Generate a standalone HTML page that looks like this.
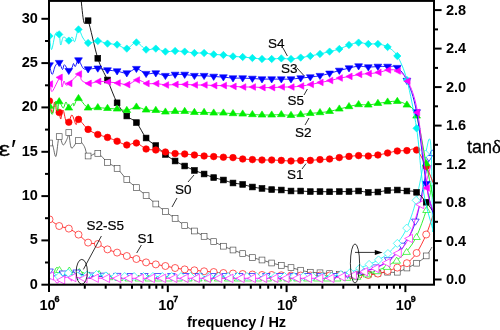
<!DOCTYPE html>
<html><head><meta charset="utf-8"><style>
html,body{margin:0;padding:0;background:#fff;}
svg{display:block;}
.tl{font-family:"Liberation Sans",Arial,sans-serif;font-weight:bold;font-size:14.5px;fill:#000;}
.sup{font-size:9px;font-weight:bold;stroke:#000;stroke-width:0.3px;}
.an text{font-family:"Liberation Sans",Arial,sans-serif;font-size:13.5px;fill:#000;stroke:#000;stroke-width:0.2px;}
.dl{font-family:"Liberation Serif",serif;font-size:19px;}
.ax{font-family:"Liberation Sans",Arial,sans-serif;fill:#000;}
.th{stroke:#000;stroke-width:0.3px;}
</style></head><body>
<svg width="500" height="330" viewBox="0 0 500 330">
<defs><clipPath id="c"><rect x="49" y="1" width="385" height="283.7"/></clipPath></defs>
<g clip-path="url(#c)">
<path d="M49.5 143.0C50.0 143.3 51.5 142.8 52.6 145.0C53.7 147.2 54.8 157.8 55.9 156.4C57.0 155.0 57.9 138.5 59.2 136.6C60.4 134.7 61.8 144.9 63.2 145.0C64.6 145.1 66.8 139.5 67.7 137.4C68.6 135.3 68.2 130.8 68.8 132.6C69.5 134.4 69.9 146.7 71.5 148.0C73.1 149.3 76.3 140.8 78.5 140.6C80.6 140.3 82.8 143.9 84.4 146.5C86.0 149.1 85.9 154.8 88.1 156.0C90.4 157.2 94.6 152.3 97.8 153.4C101.0 154.5 104.2 159.9 107.5 162.4C110.7 164.9 113.9 165.5 117.1 168.4C120.3 171.3 123.6 176.4 126.8 179.6C130.0 182.8 133.2 184.9 136.4 187.6C139.7 190.3 142.9 192.9 146.1 195.6C149.3 198.3 152.5 201.3 155.8 204.0C159.0 206.7 162.2 209.2 165.4 211.6C168.6 214.0 171.9 216.1 175.1 218.4C178.3 220.7 181.5 223.5 184.7 225.6C188.0 227.7 191.2 229.2 194.4 231.0C197.6 232.8 200.8 234.6 204.1 236.4C207.3 238.2 210.5 240.0 213.7 241.6C216.9 243.2 220.2 244.8 223.4 246.2C226.6 247.6 229.8 248.8 233.0 250.0C236.3 251.2 239.5 252.3 242.7 253.6C245.9 254.9 249.1 256.5 252.4 257.6C255.6 258.7 258.8 259.1 262.0 260.0C265.2 260.9 268.5 262.1 271.7 263.0C274.9 263.9 278.1 264.6 281.3 265.4C284.6 266.2 287.8 266.8 291.0 267.6C294.2 268.4 297.4 269.4 300.7 270.2C303.9 271.0 307.1 271.8 310.3 272.2C313.5 272.6 316.8 272.6 320.0 272.8C323.2 273.0 326.4 273.4 329.6 273.6C332.9 273.8 336.1 273.9 339.3 274.2C342.5 274.5 345.7 275.1 349.0 275.2C352.2 275.3 355.4 275.0 358.6 274.8C361.8 274.6 365.1 274.5 368.3 274.2C371.5 273.9 374.7 273.5 377.9 273.2C381.2 272.9 384.4 272.4 387.6 272.2C390.8 272.0 394.0 272.9 397.3 272.2C400.5 271.5 403.7 269.5 406.9 268.0C410.1 266.5 413.4 265.2 416.6 263.2C419.8 261.2 423.7 258.6 426.2 255.9C428.8 253.2 431.0 248.5 432.0 247.0" fill="none" stroke="#474747" stroke-width="0.8" stroke-linejoin="round"/>
<rect x="46.6" y="140.1" width="5.8" height="5.8" fill="#fff" stroke="#474747" stroke-width="0.65"/>
<rect x="56.3" y="133.7" width="5.8" height="5.8" fill="#fff" stroke="#474747" stroke-width="0.65"/>
<rect x="65.9" y="129.7" width="5.8" height="5.8" fill="#fff" stroke="#474747" stroke-width="0.65"/>
<rect x="75.6" y="137.7" width="5.8" height="5.8" fill="#fff" stroke="#474747" stroke-width="0.65"/>
<rect x="85.2" y="153.1" width="5.8" height="5.8" fill="#fff" stroke="#474747" stroke-width="0.65"/>
<rect x="94.9" y="150.5" width="5.8" height="5.8" fill="#fff" stroke="#474747" stroke-width="0.65"/>
<rect x="104.6" y="159.5" width="5.8" height="5.8" fill="#fff" stroke="#474747" stroke-width="0.65"/>
<rect x="114.2" y="165.5" width="5.8" height="5.8" fill="#fff" stroke="#474747" stroke-width="0.65"/>
<rect x="123.9" y="176.7" width="5.8" height="5.8" fill="#fff" stroke="#474747" stroke-width="0.65"/>
<rect x="133.5" y="184.7" width="5.8" height="5.8" fill="#fff" stroke="#474747" stroke-width="0.65"/>
<rect x="143.2" y="192.7" width="5.8" height="5.8" fill="#fff" stroke="#474747" stroke-width="0.65"/>
<rect x="152.9" y="201.1" width="5.8" height="5.8" fill="#fff" stroke="#474747" stroke-width="0.65"/>
<rect x="162.5" y="208.7" width="5.8" height="5.8" fill="#fff" stroke="#474747" stroke-width="0.65"/>
<rect x="172.2" y="215.5" width="5.8" height="5.8" fill="#fff" stroke="#474747" stroke-width="0.65"/>
<rect x="181.8" y="222.7" width="5.8" height="5.8" fill="#fff" stroke="#474747" stroke-width="0.65"/>
<rect x="191.5" y="228.1" width="5.8" height="5.8" fill="#fff" stroke="#474747" stroke-width="0.65"/>
<rect x="201.2" y="233.5" width="5.8" height="5.8" fill="#fff" stroke="#474747" stroke-width="0.65"/>
<rect x="210.8" y="238.7" width="5.8" height="5.8" fill="#fff" stroke="#474747" stroke-width="0.65"/>
<rect x="220.5" y="243.3" width="5.8" height="5.8" fill="#fff" stroke="#474747" stroke-width="0.65"/>
<rect x="230.1" y="247.1" width="5.8" height="5.8" fill="#fff" stroke="#474747" stroke-width="0.65"/>
<rect x="239.8" y="250.7" width="5.8" height="5.8" fill="#fff" stroke="#474747" stroke-width="0.65"/>
<rect x="249.5" y="254.7" width="5.8" height="5.8" fill="#fff" stroke="#474747" stroke-width="0.65"/>
<rect x="259.1" y="257.1" width="5.8" height="5.8" fill="#fff" stroke="#474747" stroke-width="0.65"/>
<rect x="268.8" y="260.1" width="5.8" height="5.8" fill="#fff" stroke="#474747" stroke-width="0.65"/>
<rect x="278.4" y="262.5" width="5.8" height="5.8" fill="#fff" stroke="#474747" stroke-width="0.65"/>
<rect x="288.1" y="264.7" width="5.8" height="5.8" fill="#fff" stroke="#474747" stroke-width="0.65"/>
<rect x="297.8" y="267.3" width="5.8" height="5.8" fill="#fff" stroke="#474747" stroke-width="0.65"/>
<rect x="307.4" y="269.3" width="5.8" height="5.8" fill="#fff" stroke="#474747" stroke-width="0.65"/>
<rect x="317.1" y="269.9" width="5.8" height="5.8" fill="#fff" stroke="#474747" stroke-width="0.65"/>
<rect x="326.7" y="270.7" width="5.8" height="5.8" fill="#fff" stroke="#474747" stroke-width="0.65"/>
<rect x="336.4" y="271.3" width="5.8" height="5.8" fill="#fff" stroke="#474747" stroke-width="0.65"/>
<rect x="346.1" y="272.3" width="5.8" height="5.8" fill="#fff" stroke="#474747" stroke-width="0.65"/>
<rect x="355.7" y="271.9" width="5.8" height="5.8" fill="#fff" stroke="#474747" stroke-width="0.65"/>
<rect x="365.4" y="271.3" width="5.8" height="5.8" fill="#fff" stroke="#474747" stroke-width="0.65"/>
<rect x="375.0" y="270.3" width="5.8" height="5.8" fill="#fff" stroke="#474747" stroke-width="0.65"/>
<rect x="384.7" y="269.3" width="5.8" height="5.8" fill="#fff" stroke="#474747" stroke-width="0.65"/>
<rect x="394.4" y="269.3" width="5.8" height="5.8" fill="#fff" stroke="#474747" stroke-width="0.65"/>
<rect x="404.0" y="265.1" width="5.8" height="5.8" fill="#fff" stroke="#474747" stroke-width="0.65"/>
<rect x="413.7" y="260.3" width="5.8" height="5.8" fill="#fff" stroke="#474747" stroke-width="0.65"/>
<rect x="423.3" y="253.0" width="5.8" height="5.8" fill="#fff" stroke="#474747" stroke-width="0.65"/>
<path d="M49.5 219.4C51.1 220.5 55.9 224.5 59.2 226.0C62.4 227.5 65.6 227.2 68.8 228.6C72.0 230.0 75.3 232.3 78.5 234.6C81.7 236.9 84.9 241.0 88.1 242.6C91.4 244.2 94.6 242.9 97.8 244.0C101.0 245.1 104.2 248.0 107.5 249.4C110.7 250.8 113.9 251.5 117.1 252.6C120.3 253.7 123.6 254.9 126.8 256.0C130.0 257.1 133.2 257.9 136.4 259.0C139.7 260.1 142.9 261.5 146.1 262.4C149.3 263.3 152.5 263.8 155.8 264.4C159.0 265.0 162.2 265.4 165.4 266.0C168.6 266.6 171.9 267.4 175.1 268.0C178.3 268.6 181.5 269.0 184.7 269.4C188.0 269.8 191.2 270.0 194.4 270.3C197.6 270.6 200.8 271.0 204.1 271.3C207.3 271.6 210.5 271.7 213.7 272.0C216.9 272.3 220.2 272.8 223.4 273.0C226.6 273.2 229.8 273.3 233.0 273.5C236.3 273.7 239.5 273.8 242.7 274.0C245.9 274.2 249.1 274.3 252.4 274.5C255.6 274.7 258.8 274.9 262.0 275.0C265.2 275.1 268.5 274.9 271.7 275.0C274.9 275.1 278.1 275.2 281.3 275.3C284.6 275.4 287.8 275.5 291.0 275.5C294.2 275.5 297.4 275.5 300.7 275.5C303.9 275.5 307.1 275.5 310.3 275.5C313.5 275.5 316.8 275.5 320.0 275.5C323.2 275.5 326.4 275.5 329.6 275.5C332.9 275.5 336.1 275.5 339.3 275.5C342.5 275.5 345.7 275.6 349.0 275.5C352.2 275.4 355.4 275.3 358.6 275.2C361.8 275.1 365.1 275.3 368.3 275.0C371.5 274.7 374.7 274.3 377.9 273.6C381.2 272.9 384.4 272.0 387.6 271.0C390.8 270.0 394.0 268.9 397.3 267.6C400.5 266.3 403.7 265.6 406.9 263.2C410.1 260.8 413.4 257.8 416.6 253.0C419.8 248.2 423.6 240.4 426.2 234.5C428.8 228.6 430.9 221.4 432.2 217.7C433.5 213.9 433.7 212.9 434.0 212.0" fill="none" stroke="#ff0000" stroke-width="0.8" stroke-linejoin="round"/>
<circle cx="49.5" cy="219.4" r="3.5" fill="#fff" stroke="#ff0000" stroke-width="0.65"/>
<circle cx="59.2" cy="226.0" r="3.5" fill="#fff" stroke="#ff0000" stroke-width="0.65"/>
<circle cx="68.8" cy="228.6" r="3.5" fill="#fff" stroke="#ff0000" stroke-width="0.65"/>
<circle cx="78.5" cy="234.6" r="3.5" fill="#fff" stroke="#ff0000" stroke-width="0.65"/>
<circle cx="88.1" cy="242.6" r="3.5" fill="#fff" stroke="#ff0000" stroke-width="0.65"/>
<circle cx="97.8" cy="244.0" r="3.5" fill="#fff" stroke="#ff0000" stroke-width="0.65"/>
<circle cx="107.5" cy="249.4" r="3.5" fill="#fff" stroke="#ff0000" stroke-width="0.65"/>
<circle cx="117.1" cy="252.6" r="3.5" fill="#fff" stroke="#ff0000" stroke-width="0.65"/>
<circle cx="126.8" cy="256.0" r="3.5" fill="#fff" stroke="#ff0000" stroke-width="0.65"/>
<circle cx="136.4" cy="259.0" r="3.5" fill="#fff" stroke="#ff0000" stroke-width="0.65"/>
<circle cx="146.1" cy="262.4" r="3.5" fill="#fff" stroke="#ff0000" stroke-width="0.65"/>
<circle cx="155.8" cy="264.4" r="3.5" fill="#fff" stroke="#ff0000" stroke-width="0.65"/>
<circle cx="165.4" cy="266.0" r="3.5" fill="#fff" stroke="#ff0000" stroke-width="0.65"/>
<circle cx="175.1" cy="268.0" r="3.5" fill="#fff" stroke="#ff0000" stroke-width="0.65"/>
<circle cx="184.7" cy="269.4" r="3.5" fill="#fff" stroke="#ff0000" stroke-width="0.65"/>
<circle cx="194.4" cy="270.3" r="3.5" fill="#fff" stroke="#ff0000" stroke-width="0.65"/>
<circle cx="204.1" cy="271.3" r="3.5" fill="#fff" stroke="#ff0000" stroke-width="0.65"/>
<circle cx="213.7" cy="272.0" r="3.5" fill="#fff" stroke="#ff0000" stroke-width="0.65"/>
<circle cx="223.4" cy="273.0" r="3.5" fill="#fff" stroke="#ff0000" stroke-width="0.65"/>
<circle cx="233.0" cy="273.5" r="3.5" fill="#fff" stroke="#ff0000" stroke-width="0.65"/>
<circle cx="242.7" cy="274.0" r="3.5" fill="#fff" stroke="#ff0000" stroke-width="0.65"/>
<circle cx="252.4" cy="274.5" r="3.5" fill="#fff" stroke="#ff0000" stroke-width="0.65"/>
<circle cx="262.0" cy="275.0" r="3.5" fill="#fff" stroke="#ff0000" stroke-width="0.65"/>
<circle cx="271.7" cy="275.0" r="3.5" fill="#fff" stroke="#ff0000" stroke-width="0.65"/>
<circle cx="281.3" cy="275.3" r="3.5" fill="#fff" stroke="#ff0000" stroke-width="0.65"/>
<circle cx="291.0" cy="275.5" r="3.5" fill="#fff" stroke="#ff0000" stroke-width="0.65"/>
<circle cx="300.7" cy="275.5" r="3.5" fill="#fff" stroke="#ff0000" stroke-width="0.65"/>
<circle cx="310.3" cy="275.5" r="3.5" fill="#fff" stroke="#ff0000" stroke-width="0.65"/>
<circle cx="320.0" cy="275.5" r="3.5" fill="#fff" stroke="#ff0000" stroke-width="0.65"/>
<circle cx="329.6" cy="275.5" r="3.5" fill="#fff" stroke="#ff0000" stroke-width="0.65"/>
<circle cx="339.3" cy="275.5" r="3.5" fill="#fff" stroke="#ff0000" stroke-width="0.65"/>
<circle cx="349.0" cy="275.5" r="3.5" fill="#fff" stroke="#ff0000" stroke-width="0.65"/>
<circle cx="358.6" cy="275.2" r="3.5" fill="#fff" stroke="#ff0000" stroke-width="0.65"/>
<circle cx="368.3" cy="275.0" r="3.5" fill="#fff" stroke="#ff0000" stroke-width="0.65"/>
<circle cx="377.9" cy="273.6" r="3.5" fill="#fff" stroke="#ff0000" stroke-width="0.65"/>
<circle cx="387.6" cy="271.0" r="3.5" fill="#fff" stroke="#ff0000" stroke-width="0.65"/>
<circle cx="397.3" cy="267.6" r="3.5" fill="#fff" stroke="#ff0000" stroke-width="0.65"/>
<circle cx="406.9" cy="263.2" r="3.5" fill="#fff" stroke="#ff0000" stroke-width="0.65"/>
<circle cx="416.6" cy="253.0" r="3.5" fill="#fff" stroke="#ff0000" stroke-width="0.65"/>
<circle cx="426.2" cy="234.5" r="3.5" fill="#fff" stroke="#ff0000" stroke-width="0.65"/>
<path d="M49.5 274.0C49.9 274.7 50.9 279.0 52.0 278.0C53.1 277.0 54.8 269.4 56.0 268.0C57.2 266.6 58.3 268.3 59.4 269.5C60.6 270.7 61.3 274.9 63.0 275.0C64.7 275.1 67.7 269.8 69.3 270.0C71.0 270.2 71.3 275.7 73.0 276.0C74.7 276.3 76.6 271.7 79.3 271.5C82.0 271.4 85.9 274.6 89.2 275.0C92.5 275.3 95.8 273.2 99.1 273.5C102.4 273.8 105.7 276.0 109.0 276.7C112.3 277.3 115.6 277.2 118.9 277.4C122.2 277.7 125.6 277.9 128.9 277.9C132.2 278.0 135.5 278.0 138.8 278.0C142.1 278.0 145.4 278.0 148.7 278.0C152.0 278.0 155.3 278.0 158.6 278.0C161.9 278.0 165.2 278.0 168.5 278.0C171.8 278.0 175.2 278.0 178.5 278.0C181.8 278.0 185.1 278.0 188.4 278.0C191.7 278.0 195.0 278.0 198.3 278.0C201.6 278.0 204.9 278.0 208.2 278.0C211.5 278.0 214.8 278.0 218.1 278.0C221.4 278.0 224.8 278.0 228.1 278.0C231.4 278.0 234.7 278.0 238.0 278.0C241.3 278.0 244.6 278.0 247.9 278.0C251.2 278.0 254.5 278.0 257.8 278.0C261.1 278.0 264.4 278.0 267.7 278.0C271.0 278.0 274.4 278.0 277.7 278.0C281.0 278.0 284.3 278.0 287.6 278.0C290.9 278.0 294.2 278.0 297.5 278.0C300.8 278.0 304.1 278.0 307.4 278.0C310.7 278.0 314.0 278.0 317.3 278.0C320.6 278.0 324.0 278.0 327.3 278.0C330.6 278.0 333.9 278.1 337.2 278.0C340.5 277.9 343.8 277.6 347.1 277.3C350.4 277.0 353.7 276.9 357.0 276.3C360.3 275.7 363.6 274.8 366.9 273.8C370.2 272.9 373.6 271.9 376.9 270.6C380.2 269.4 383.5 268.1 386.8 266.3C390.1 264.6 393.4 262.6 396.7 260.2C400.0 257.7 403.3 255.3 406.6 251.4C409.9 247.4 413.2 243.4 416.5 236.4C419.8 229.5 423.9 218.1 426.5 209.5C429.0 200.9 431.1 189.1 432.0 185.0" fill="none" stroke="#00ee00" stroke-width="0.8" stroke-linejoin="round"/>
<path d="M45.7 277.0L53.3 277.0L49.5 271.0Z" fill="#fff" stroke="#00ee00" stroke-width="0.65"/>
<path d="M55.6 272.5L63.2 272.5L59.4 266.5Z" fill="#fff" stroke="#00ee00" stroke-width="0.65"/>
<path d="M65.5 273.0L73.1 273.0L69.3 267.0Z" fill="#fff" stroke="#00ee00" stroke-width="0.65"/>
<path d="M75.5 274.6L83.1 274.6L79.3 268.5Z" fill="#fff" stroke="#00ee00" stroke-width="0.65"/>
<path d="M85.4 278.0L93.0 278.0L89.2 271.9Z" fill="#fff" stroke="#00ee00" stroke-width="0.65"/>
<path d="M95.3 276.6L102.9 276.6L99.1 270.5Z" fill="#fff" stroke="#00ee00" stroke-width="0.65"/>
<path d="M105.2 279.7L112.8 279.7L109.0 273.6Z" fill="#fff" stroke="#00ee00" stroke-width="0.65"/>
<path d="M115.1 280.5L122.7 280.5L118.9 274.4Z" fill="#fff" stroke="#00ee00" stroke-width="0.65"/>
<path d="M125.1 281.0L132.7 281.0L128.9 274.9Z" fill="#fff" stroke="#00ee00" stroke-width="0.65"/>
<path d="M135.0 281.0L142.6 281.0L138.8 275.0Z" fill="#fff" stroke="#00ee00" stroke-width="0.65"/>
<path d="M144.9 281.0L152.5 281.0L148.7 275.0Z" fill="#fff" stroke="#00ee00" stroke-width="0.65"/>
<path d="M154.8 281.0L162.4 281.0L158.6 275.0Z" fill="#fff" stroke="#00ee00" stroke-width="0.65"/>
<path d="M164.7 281.0L172.3 281.0L168.5 275.0Z" fill="#fff" stroke="#00ee00" stroke-width="0.65"/>
<path d="M174.7 281.0L182.3 281.0L178.5 275.0Z" fill="#fff" stroke="#00ee00" stroke-width="0.65"/>
<path d="M184.6 281.0L192.2 281.0L188.4 275.0Z" fill="#fff" stroke="#00ee00" stroke-width="0.65"/>
<path d="M194.5 281.0L202.1 281.0L198.3 275.0Z" fill="#fff" stroke="#00ee00" stroke-width="0.65"/>
<path d="M204.4 281.0L212.0 281.0L208.2 275.0Z" fill="#fff" stroke="#00ee00" stroke-width="0.65"/>
<path d="M214.3 281.0L221.9 281.0L218.1 275.0Z" fill="#fff" stroke="#00ee00" stroke-width="0.65"/>
<path d="M224.3 281.0L231.9 281.0L228.1 275.0Z" fill="#fff" stroke="#00ee00" stroke-width="0.65"/>
<path d="M234.2 281.0L241.8 281.0L238.0 275.0Z" fill="#fff" stroke="#00ee00" stroke-width="0.65"/>
<path d="M244.1 281.0L251.7 281.0L247.9 275.0Z" fill="#fff" stroke="#00ee00" stroke-width="0.65"/>
<path d="M254.0 281.0L261.6 281.0L257.8 275.0Z" fill="#fff" stroke="#00ee00" stroke-width="0.65"/>
<path d="M263.9 281.0L271.5 281.0L267.7 275.0Z" fill="#fff" stroke="#00ee00" stroke-width="0.65"/>
<path d="M273.9 281.0L281.5 281.0L277.7 275.0Z" fill="#fff" stroke="#00ee00" stroke-width="0.65"/>
<path d="M283.8 281.0L291.4 281.0L287.6 275.0Z" fill="#fff" stroke="#00ee00" stroke-width="0.65"/>
<path d="M293.7 281.0L301.3 281.0L297.5 275.0Z" fill="#fff" stroke="#00ee00" stroke-width="0.65"/>
<path d="M303.6 281.0L311.2 281.0L307.4 275.0Z" fill="#fff" stroke="#00ee00" stroke-width="0.65"/>
<path d="M313.5 281.0L321.1 281.0L317.3 275.0Z" fill="#fff" stroke="#00ee00" stroke-width="0.65"/>
<path d="M323.5 281.0L331.1 281.0L327.3 275.0Z" fill="#fff" stroke="#00ee00" stroke-width="0.65"/>
<path d="M333.4 281.0L341.0 281.0L337.2 275.0Z" fill="#fff" stroke="#00ee00" stroke-width="0.65"/>
<path d="M343.3 280.3L350.9 280.3L347.1 274.2Z" fill="#fff" stroke="#00ee00" stroke-width="0.65"/>
<path d="M353.2 279.3L360.8 279.3L357.0 273.3Z" fill="#fff" stroke="#00ee00" stroke-width="0.65"/>
<path d="M363.1 276.9L370.7 276.9L366.9 270.8Z" fill="#fff" stroke="#00ee00" stroke-width="0.65"/>
<path d="M373.1 273.7L380.7 273.7L376.9 267.6Z" fill="#fff" stroke="#00ee00" stroke-width="0.65"/>
<path d="M383.0 269.4L390.6 269.4L386.8 263.3Z" fill="#fff" stroke="#00ee00" stroke-width="0.65"/>
<path d="M392.9 263.2L400.5 263.2L396.7 257.1Z" fill="#fff" stroke="#00ee00" stroke-width="0.65"/>
<path d="M402.8 254.4L410.4 254.4L406.6 248.4Z" fill="#fff" stroke="#00ee00" stroke-width="0.65"/>
<path d="M412.7 239.5L420.3 239.5L416.5 233.4Z" fill="#fff" stroke="#00ee00" stroke-width="0.65"/>
<path d="M422.7 212.5L430.3 212.5L426.5 206.5Z" fill="#fff" stroke="#00ee00" stroke-width="0.65"/>
<path d="M49.5 272.0C50.5 272.7 53.7 276.3 55.5 276.2C57.3 276.1 59.2 271.9 60.5 271.5C61.8 271.1 62.3 273.2 63.0 274.0C63.8 274.7 63.3 276.3 65.0 276.0C66.7 275.7 71.1 272.5 73.0 272.0C74.9 271.5 73.7 272.3 76.6 273.0C79.5 273.7 85.6 275.5 90.2 276.0C94.7 276.5 99.2 276.2 103.7 276.2C108.2 276.3 112.7 276.4 117.2 276.5C121.8 276.5 126.3 276.5 130.8 276.5C135.3 276.5 139.8 276.5 144.4 276.5C148.9 276.5 153.4 276.5 157.9 276.5C162.4 276.5 166.9 276.5 171.4 276.5C176.0 276.5 180.5 276.5 185.0 276.5C189.5 276.5 194.0 276.5 198.6 276.5C203.1 276.5 207.6 276.5 212.1 276.5C216.6 276.5 221.1 276.5 225.7 276.5C230.2 276.5 234.7 276.5 239.2 276.5C243.7 276.5 248.2 276.5 252.8 276.5C257.3 276.5 261.8 276.5 266.3 276.5C270.8 276.5 275.3 276.5 279.9 276.5C284.4 276.5 288.9 276.5 293.4 276.5C297.9 276.5 302.4 276.5 306.9 276.5C311.5 276.5 316.0 276.5 320.5 276.5C325.0 276.5 329.5 276.7 334.1 276.5C338.6 276.3 343.1 276.1 347.6 275.4C352.1 274.6 356.6 273.2 361.2 272.0C365.7 270.7 370.2 269.8 374.7 267.9C379.2 266.1 383.7 264.3 388.2 260.7C392.8 257.1 397.3 252.7 401.8 246.3C406.3 239.8 410.8 236.8 415.4 222.1C419.9 207.5 426.0 170.5 428.9 158.5C431.8 146.5 432.3 151.4 433.0 150.0" fill="none" stroke="#0000ff" stroke-width="0.8" stroke-linejoin="round"/>
<path d="M45.7 269.0L53.3 269.0L49.5 275.0Z" fill="#fff" stroke="#0000ff" stroke-width="0.65"/>
<path d="M59.2 271.0L66.8 271.0L63.0 277.0Z" fill="#fff" stroke="#0000ff" stroke-width="0.65"/>
<path d="M72.8 270.0L80.4 270.0L76.6 276.0Z" fill="#fff" stroke="#0000ff" stroke-width="0.65"/>
<path d="M86.4 273.0L94.0 273.0L90.2 279.0Z" fill="#fff" stroke="#0000ff" stroke-width="0.65"/>
<path d="M99.9 273.2L107.5 273.2L103.7 279.3Z" fill="#fff" stroke="#0000ff" stroke-width="0.65"/>
<path d="M113.5 273.4L121.0 273.4L117.2 279.5Z" fill="#fff" stroke="#0000ff" stroke-width="0.65"/>
<path d="M127.0 273.5L134.6 273.5L130.8 279.5Z" fill="#fff" stroke="#0000ff" stroke-width="0.65"/>
<path d="M140.6 273.5L148.2 273.5L144.4 279.5Z" fill="#fff" stroke="#0000ff" stroke-width="0.65"/>
<path d="M154.1 273.5L161.7 273.5L157.9 279.5Z" fill="#fff" stroke="#0000ff" stroke-width="0.65"/>
<path d="M167.6 273.5L175.2 273.5L171.4 279.5Z" fill="#fff" stroke="#0000ff" stroke-width="0.65"/>
<path d="M181.2 273.5L188.8 273.5L185.0 279.5Z" fill="#fff" stroke="#0000ff" stroke-width="0.65"/>
<path d="M194.8 273.5L202.4 273.5L198.6 279.5Z" fill="#fff" stroke="#0000ff" stroke-width="0.65"/>
<path d="M208.3 273.5L215.9 273.5L212.1 279.5Z" fill="#fff" stroke="#0000ff" stroke-width="0.65"/>
<path d="M221.8 273.5L229.5 273.5L225.7 279.5Z" fill="#fff" stroke="#0000ff" stroke-width="0.65"/>
<path d="M235.4 273.5L243.0 273.5L239.2 279.5Z" fill="#fff" stroke="#0000ff" stroke-width="0.65"/>
<path d="M248.9 273.5L256.6 273.5L252.8 279.5Z" fill="#fff" stroke="#0000ff" stroke-width="0.65"/>
<path d="M262.5 273.5L270.1 273.5L266.3 279.5Z" fill="#fff" stroke="#0000ff" stroke-width="0.65"/>
<path d="M276.1 273.5L283.7 273.5L279.9 279.5Z" fill="#fff" stroke="#0000ff" stroke-width="0.65"/>
<path d="M289.6 273.5L297.2 273.5L293.4 279.5Z" fill="#fff" stroke="#0000ff" stroke-width="0.65"/>
<path d="M303.1 273.5L310.8 273.5L306.9 279.5Z" fill="#fff" stroke="#0000ff" stroke-width="0.65"/>
<path d="M316.7 273.5L324.3 273.5L320.5 279.5Z" fill="#fff" stroke="#0000ff" stroke-width="0.65"/>
<path d="M330.2 273.5L337.9 273.5L334.1 279.5Z" fill="#fff" stroke="#0000ff" stroke-width="0.65"/>
<path d="M343.8 272.3L351.4 272.3L347.6 278.4Z" fill="#fff" stroke="#0000ff" stroke-width="0.65"/>
<path d="M357.4 268.9L365.0 268.9L361.2 275.0Z" fill="#fff" stroke="#0000ff" stroke-width="0.65"/>
<path d="M370.9 264.9L378.5 264.9L374.7 271.0Z" fill="#fff" stroke="#0000ff" stroke-width="0.65"/>
<path d="M384.4 257.7L392.1 257.7L388.2 263.8Z" fill="#fff" stroke="#0000ff" stroke-width="0.65"/>
<path d="M398.0 243.2L405.6 243.2L401.8 249.3Z" fill="#fff" stroke="#0000ff" stroke-width="0.65"/>
<path d="M411.6 219.1L419.2 219.1L415.4 225.2Z" fill="#fff" stroke="#0000ff" stroke-width="0.65"/>
<path d="M425.1 155.5L432.7 155.5L428.9 161.5Z" fill="#fff" stroke="#0000ff" stroke-width="0.65"/>
<path d="M49.5 276.0C50.1 275.5 51.4 272.9 53.0 273.0C54.6 273.1 57.4 276.0 58.9 276.5C60.4 277.0 60.4 276.6 62.0 276.0C63.6 275.4 66.8 273.3 68.3 273.0C69.8 272.7 69.4 273.5 71.0 274.0C72.6 274.5 75.0 275.8 77.7 276.0C80.4 276.2 84.0 275.2 87.1 275.0C90.2 274.8 93.4 274.4 96.5 274.5C99.6 274.6 102.8 275.6 105.9 275.9C109.0 276.2 112.2 276.4 115.3 276.5C118.4 276.6 121.6 276.5 124.7 276.5C127.8 276.5 131.0 276.5 134.1 276.5C137.2 276.5 140.4 276.5 143.5 276.5C146.6 276.5 149.8 276.5 152.9 276.5C156.0 276.5 159.2 276.5 162.3 276.5C165.4 276.5 168.6 276.5 171.7 276.5C174.8 276.5 178.0 276.5 181.1 276.5C184.2 276.5 187.4 276.5 190.5 276.5C193.6 276.5 196.8 276.5 199.9 276.5C203.0 276.5 206.2 276.5 209.3 276.5C212.4 276.5 215.6 276.5 218.7 276.5C221.8 276.5 225.0 276.5 228.1 276.5C231.2 276.5 234.4 276.5 237.5 276.5C240.6 276.5 243.8 276.5 246.9 276.5C250.0 276.5 253.2 276.5 256.3 276.5C259.4 276.5 262.6 276.5 265.7 276.5C268.8 276.5 272.0 276.5 275.1 276.5C278.2 276.5 281.4 276.5 284.5 276.5C287.6 276.5 290.8 276.5 293.9 276.5C297.0 276.5 300.2 276.5 303.3 276.5C306.4 276.5 309.6 276.5 312.7 276.5C315.8 276.5 319.0 276.5 322.1 276.5C325.2 276.5 328.4 276.6 331.5 276.2C334.6 275.9 337.8 275.1 340.9 274.5C344.0 273.9 347.2 273.5 350.3 272.4C353.4 271.4 356.6 269.6 359.7 268.2C362.8 266.9 366.0 265.8 369.1 264.4C372.2 263.0 375.4 261.7 378.5 259.9C381.6 258.1 384.8 256.2 387.9 253.5C391.0 250.7 394.2 247.7 397.3 243.4C400.4 239.2 403.6 235.3 406.7 228.1C409.8 220.9 413.0 212.6 416.1 200.3C419.2 188.0 423.2 164.2 425.5 154.0C427.8 143.8 428.6 138.0 429.6 139.0C430.6 140.0 431.0 144.5 431.5 160.0C432.0 175.5 432.3 220.0 432.5 232.0" fill="none" stroke="#00f4f0" stroke-width="0.8" stroke-linejoin="round"/>
<path d="M49.5 272.0L53.5 276.0L49.5 280.0L45.5 276.0Z" fill="#fff" stroke="#00f4f0" stroke-width="0.65"/>
<path d="M58.9 272.5L62.9 276.5L58.9 280.5L54.9 276.5Z" fill="#fff" stroke="#00f4f0" stroke-width="0.65"/>
<path d="M68.3 269.0L72.3 273.0L68.3 277.0L64.3 273.0Z" fill="#fff" stroke="#00f4f0" stroke-width="0.65"/>
<path d="M77.7 272.0L81.7 276.0L77.7 280.0L73.7 276.0Z" fill="#fff" stroke="#00f4f0" stroke-width="0.65"/>
<path d="M87.1 271.0L91.1 275.0L87.1 279.0L83.1 275.0Z" fill="#fff" stroke="#00f4f0" stroke-width="0.65"/>
<path d="M96.5 270.5L100.5 274.5L96.5 278.5L92.5 274.5Z" fill="#fff" stroke="#00f4f0" stroke-width="0.65"/>
<path d="M105.9 271.9L109.9 275.9L105.9 279.9L101.9 275.9Z" fill="#fff" stroke="#00f4f0" stroke-width="0.65"/>
<path d="M115.3 272.5L119.3 276.5L115.3 280.5L111.3 276.5Z" fill="#fff" stroke="#00f4f0" stroke-width="0.65"/>
<path d="M124.7 272.5L128.7 276.5L124.7 280.5L120.7 276.5Z" fill="#fff" stroke="#00f4f0" stroke-width="0.65"/>
<path d="M134.1 272.5L138.1 276.5L134.1 280.5L130.1 276.5Z" fill="#fff" stroke="#00f4f0" stroke-width="0.65"/>
<path d="M143.5 272.5L147.5 276.5L143.5 280.5L139.5 276.5Z" fill="#fff" stroke="#00f4f0" stroke-width="0.65"/>
<path d="M152.9 272.5L156.9 276.5L152.9 280.5L148.9 276.5Z" fill="#fff" stroke="#00f4f0" stroke-width="0.65"/>
<path d="M162.3 272.5L166.3 276.5L162.3 280.5L158.3 276.5Z" fill="#fff" stroke="#00f4f0" stroke-width="0.65"/>
<path d="M171.7 272.5L175.7 276.5L171.7 280.5L167.7 276.5Z" fill="#fff" stroke="#00f4f0" stroke-width="0.65"/>
<path d="M181.1 272.5L185.1 276.5L181.1 280.5L177.1 276.5Z" fill="#fff" stroke="#00f4f0" stroke-width="0.65"/>
<path d="M190.5 272.5L194.5 276.5L190.5 280.5L186.5 276.5Z" fill="#fff" stroke="#00f4f0" stroke-width="0.65"/>
<path d="M199.9 272.5L203.9 276.5L199.9 280.5L195.9 276.5Z" fill="#fff" stroke="#00f4f0" stroke-width="0.65"/>
<path d="M209.3 272.5L213.3 276.5L209.3 280.5L205.3 276.5Z" fill="#fff" stroke="#00f4f0" stroke-width="0.65"/>
<path d="M218.7 272.5L222.7 276.5L218.7 280.5L214.7 276.5Z" fill="#fff" stroke="#00f4f0" stroke-width="0.65"/>
<path d="M228.1 272.5L232.1 276.5L228.1 280.5L224.1 276.5Z" fill="#fff" stroke="#00f4f0" stroke-width="0.65"/>
<path d="M237.5 272.5L241.5 276.5L237.5 280.5L233.5 276.5Z" fill="#fff" stroke="#00f4f0" stroke-width="0.65"/>
<path d="M246.9 272.5L250.9 276.5L246.9 280.5L242.9 276.5Z" fill="#fff" stroke="#00f4f0" stroke-width="0.65"/>
<path d="M256.3 272.5L260.3 276.5L256.3 280.5L252.3 276.5Z" fill="#fff" stroke="#00f4f0" stroke-width="0.65"/>
<path d="M265.7 272.5L269.7 276.5L265.7 280.5L261.7 276.5Z" fill="#fff" stroke="#00f4f0" stroke-width="0.65"/>
<path d="M275.1 272.5L279.1 276.5L275.1 280.5L271.1 276.5Z" fill="#fff" stroke="#00f4f0" stroke-width="0.65"/>
<path d="M284.5 272.5L288.5 276.5L284.5 280.5L280.5 276.5Z" fill="#fff" stroke="#00f4f0" stroke-width="0.65"/>
<path d="M293.9 272.5L297.9 276.5L293.9 280.5L289.9 276.5Z" fill="#fff" stroke="#00f4f0" stroke-width="0.65"/>
<path d="M303.3 272.5L307.3 276.5L303.3 280.5L299.3 276.5Z" fill="#fff" stroke="#00f4f0" stroke-width="0.65"/>
<path d="M312.7 272.5L316.7 276.5L312.7 280.5L308.7 276.5Z" fill="#fff" stroke="#00f4f0" stroke-width="0.65"/>
<path d="M322.1 272.5L326.1 276.5L322.1 280.5L318.1 276.5Z" fill="#fff" stroke="#00f4f0" stroke-width="0.65"/>
<path d="M331.5 272.2L335.5 276.2L331.5 280.2L327.5 276.2Z" fill="#fff" stroke="#00f4f0" stroke-width="0.65"/>
<path d="M340.9 270.5L344.9 274.5L340.9 278.5L336.9 274.5Z" fill="#fff" stroke="#00f4f0" stroke-width="0.65"/>
<path d="M350.3 268.4L354.3 272.4L350.3 276.4L346.3 272.4Z" fill="#fff" stroke="#00f4f0" stroke-width="0.65"/>
<path d="M359.7 264.2L363.7 268.2L359.7 272.2L355.7 268.2Z" fill="#fff" stroke="#00f4f0" stroke-width="0.65"/>
<path d="M369.1 260.4L373.1 264.4L369.1 268.4L365.1 264.4Z" fill="#fff" stroke="#00f4f0" stroke-width="0.65"/>
<path d="M378.5 255.9L382.5 259.9L378.5 263.9L374.5 259.9Z" fill="#fff" stroke="#00f4f0" stroke-width="0.65"/>
<path d="M387.9 249.5L391.9 253.5L387.9 257.5L383.9 253.5Z" fill="#fff" stroke="#00f4f0" stroke-width="0.65"/>
<path d="M397.3 239.4L401.3 243.4L397.3 247.4L393.3 243.4Z" fill="#fff" stroke="#00f4f0" stroke-width="0.65"/>
<path d="M406.7 224.1L410.7 228.1L406.7 232.1L402.7 228.1Z" fill="#fff" stroke="#00f4f0" stroke-width="0.65"/>
<path d="M416.1 196.3L420.1 200.3L416.1 204.3L412.1 200.3Z" fill="#fff" stroke="#00f4f0" stroke-width="0.65"/>
<path d="M425.5 150.0L429.5 154.0L425.5 158.0L421.5 154.0Z" fill="#fff" stroke="#00f4f0" stroke-width="0.65"/>
<path d="M49.5 276.0C50.2 276.6 52.8 278.3 54.0 279.5C55.2 280.7 55.9 282.9 57.0 283.0C58.1 283.1 59.8 280.7 60.7 280.0C61.7 279.3 61.5 279.1 62.7 278.7C63.9 278.3 66.3 276.9 67.8 277.3C69.3 277.7 70.8 281.0 71.5 281.0C72.2 281.0 71.1 278.1 71.9 277.5C72.8 276.9 74.6 277.1 76.5 277.3C78.4 277.5 80.2 278.3 83.2 278.5C86.1 278.6 90.6 278.2 94.4 278.2C98.1 278.2 101.9 278.3 105.6 278.3C109.3 278.3 113.1 278.3 116.8 278.3C120.6 278.3 124.3 278.3 128.0 278.3C131.8 278.3 135.5 278.3 139.3 278.3C143.0 278.3 146.7 278.3 150.5 278.3C154.2 278.3 158.0 278.3 161.7 278.3C165.4 278.3 169.2 278.3 172.9 278.3C176.7 278.3 180.4 278.3 184.1 278.3C187.9 278.3 191.6 278.3 195.4 278.3C199.1 278.3 202.8 278.3 206.6 278.3C210.3 278.3 214.1 278.3 217.8 278.3C221.5 278.3 225.3 278.3 229.0 278.3C232.8 278.3 236.5 278.3 240.2 278.3C244.0 278.3 247.7 278.3 251.5 278.3C255.2 278.3 258.9 278.3 262.7 278.3C266.4 278.3 270.2 278.3 273.9 278.3C277.6 278.3 281.4 278.3 285.1 278.3C288.9 278.3 292.6 278.3 296.3 278.3C300.1 278.3 303.8 278.3 307.6 278.3C311.3 278.3 315.0 278.3 318.8 278.3C322.5 278.3 326.3 278.5 330.0 278.3C333.7 278.1 337.5 277.4 341.2 276.9C345.0 276.4 348.7 276.2 352.4 275.4C356.2 274.5 359.9 273.0 363.7 271.8C367.4 270.7 371.1 270.0 374.9 268.5C378.6 267.0 382.4 265.4 386.1 262.8C389.8 260.2 393.6 257.2 397.3 253.2C401.1 249.1 404.8 246.6 408.5 238.5C412.3 230.4 416.0 216.7 419.8 204.5C423.5 192.3 429.1 171.6 431.0 165.0" fill="none" stroke="#ff00ff" stroke-width="0.8" stroke-linejoin="round"/>
<path d="M53.5 271.8L53.5 280.2L45.5 276.0Z" fill="#fff" stroke="#ff00ff" stroke-width="0.65"/>
<path d="M64.7 275.8L64.7 284.2L56.7 280.0Z" fill="#fff" stroke="#ff00ff" stroke-width="0.65"/>
<path d="M75.9 273.3L75.9 281.7L68.0 277.5Z" fill="#fff" stroke="#ff00ff" stroke-width="0.65"/>
<path d="M87.1 274.3L87.1 282.7L79.2 278.5Z" fill="#fff" stroke="#ff00ff" stroke-width="0.65"/>
<path d="M98.4 274.0L98.4 282.4L90.4 278.2Z" fill="#fff" stroke="#ff00ff" stroke-width="0.65"/>
<path d="M109.6 274.1L109.6 282.5L101.6 278.3Z" fill="#fff" stroke="#ff00ff" stroke-width="0.65"/>
<path d="M120.8 274.1L120.8 282.5L112.8 278.3Z" fill="#fff" stroke="#ff00ff" stroke-width="0.65"/>
<path d="M132.0 274.1L132.0 282.5L124.1 278.3Z" fill="#fff" stroke="#ff00ff" stroke-width="0.65"/>
<path d="M143.2 274.1L143.2 282.5L135.3 278.3Z" fill="#fff" stroke="#ff00ff" stroke-width="0.65"/>
<path d="M154.5 274.1L154.5 282.5L146.5 278.3Z" fill="#fff" stroke="#ff00ff" stroke-width="0.65"/>
<path d="M165.7 274.1L165.7 282.5L157.7 278.3Z" fill="#fff" stroke="#ff00ff" stroke-width="0.65"/>
<path d="M176.9 274.1L176.9 282.5L168.9 278.3Z" fill="#fff" stroke="#ff00ff" stroke-width="0.65"/>
<path d="M188.1 274.1L188.1 282.5L180.2 278.3Z" fill="#fff" stroke="#ff00ff" stroke-width="0.65"/>
<path d="M199.4 274.1L199.4 282.5L191.4 278.3Z" fill="#fff" stroke="#ff00ff" stroke-width="0.65"/>
<path d="M210.6 274.1L210.6 282.5L202.6 278.3Z" fill="#fff" stroke="#ff00ff" stroke-width="0.65"/>
<path d="M221.8 274.1L221.8 282.5L213.8 278.3Z" fill="#fff" stroke="#ff00ff" stroke-width="0.65"/>
<path d="M233.0 274.1L233.0 282.5L225.0 278.3Z" fill="#fff" stroke="#ff00ff" stroke-width="0.65"/>
<path d="M244.2 274.1L244.2 282.5L236.2 278.3Z" fill="#fff" stroke="#ff00ff" stroke-width="0.65"/>
<path d="M255.5 274.1L255.5 282.5L247.5 278.3Z" fill="#fff" stroke="#ff00ff" stroke-width="0.65"/>
<path d="M266.7 274.1L266.7 282.5L258.7 278.3Z" fill="#fff" stroke="#ff00ff" stroke-width="0.65"/>
<path d="M277.9 274.1L277.9 282.5L269.9 278.3Z" fill="#fff" stroke="#ff00ff" stroke-width="0.65"/>
<path d="M289.1 274.1L289.1 282.5L281.1 278.3Z" fill="#fff" stroke="#ff00ff" stroke-width="0.65"/>
<path d="M300.3 274.1L300.3 282.5L292.4 278.3Z" fill="#fff" stroke="#ff00ff" stroke-width="0.65"/>
<path d="M311.6 274.1L311.6 282.5L303.6 278.3Z" fill="#fff" stroke="#ff00ff" stroke-width="0.65"/>
<path d="M322.8 274.1L322.8 282.5L314.8 278.3Z" fill="#fff" stroke="#ff00ff" stroke-width="0.65"/>
<path d="M334.0 274.1L334.0 282.5L326.0 278.3Z" fill="#fff" stroke="#ff00ff" stroke-width="0.65"/>
<path d="M345.2 272.7L345.2 281.1L337.2 276.9Z" fill="#fff" stroke="#ff00ff" stroke-width="0.65"/>
<path d="M356.4 271.2L356.4 279.6L348.4 275.4Z" fill="#fff" stroke="#ff00ff" stroke-width="0.65"/>
<path d="M367.7 267.6L367.7 276.0L359.7 271.8Z" fill="#fff" stroke="#ff00ff" stroke-width="0.65"/>
<path d="M378.9 264.3L378.9 272.7L370.9 268.5Z" fill="#fff" stroke="#ff00ff" stroke-width="0.65"/>
<path d="M390.1 258.6L390.1 267.0L382.1 262.8Z" fill="#fff" stroke="#ff00ff" stroke-width="0.65"/>
<path d="M401.3 249.0L401.3 257.4L393.3 253.2Z" fill="#fff" stroke="#ff00ff" stroke-width="0.65"/>
<path d="M412.5 234.3L412.5 242.7L404.6 238.5Z" fill="#fff" stroke="#ff00ff" stroke-width="0.65"/>
<path d="M423.8 200.3L423.8 208.7L415.8 204.5Z" fill="#fff" stroke="#ff00ff" stroke-width="0.65"/>
<path d="M80.9 -2.0C81.4 2.1 82.8 18.9 84.0 22.7C85.2 26.5 85.8 14.8 88.1 20.7C90.4 26.6 94.6 48.4 97.8 58.3C101.0 68.2 104.2 72.6 107.5 80.0C110.7 87.4 113.9 96.8 117.1 102.8C120.3 108.8 123.6 112.7 126.8 116.0C130.0 119.3 133.2 118.9 136.4 122.6C139.7 126.3 142.9 134.2 146.1 138.0C149.3 141.8 152.5 142.9 155.8 145.6C159.0 148.3 162.2 151.8 165.4 154.4C168.6 157.0 171.9 159.1 175.1 161.0C178.3 162.9 181.5 164.4 184.7 166.0C188.0 167.6 191.2 169.1 194.4 170.4C197.6 171.7 200.8 172.8 204.1 174.0C207.3 175.2 210.5 176.6 213.7 177.6C216.9 178.6 220.2 179.1 223.4 180.0C226.6 180.9 229.8 182.3 233.0 183.0C236.3 183.7 239.5 183.7 242.7 184.4C245.9 185.1 249.1 186.3 252.4 187.0C255.6 187.7 258.8 188.0 262.0 188.4C265.2 188.8 268.5 189.3 271.7 189.6C274.9 189.9 278.1 189.8 281.3 190.0C284.6 190.2 287.8 190.8 291.0 191.0C294.2 191.2 297.4 190.9 300.7 191.0C303.9 191.1 307.1 191.5 310.3 191.6C313.5 191.7 316.8 191.6 320.0 191.6C323.2 191.6 326.4 191.8 329.6 191.8C332.9 191.8 336.1 191.6 339.3 191.6C342.5 191.6 345.7 191.7 349.0 191.6C352.2 191.5 355.4 190.9 358.6 191.0C361.8 191.1 365.1 192.2 368.3 192.4C371.5 192.6 374.7 192.3 377.9 192.0C381.2 191.7 384.4 190.7 387.6 190.4C390.8 190.1 394.0 189.9 397.3 190.0C400.5 190.1 403.7 190.6 406.9 191.0C410.1 191.4 413.4 190.4 416.6 192.3C419.8 194.2 423.4 198.9 426.2 202.2C429.1 205.5 432.3 210.4 433.5 212.0" fill="none" stroke="#000000" stroke-width="0.9" stroke-linejoin="round"/>
<rect x="85.2" y="17.8" width="5.8" height="5.8" fill="#000000" stroke="#000000" stroke-width="0.6"/>
<rect x="94.9" y="55.4" width="5.8" height="5.8" fill="#000000" stroke="#000000" stroke-width="0.6"/>
<rect x="104.6" y="77.1" width="5.8" height="5.8" fill="#000000" stroke="#000000" stroke-width="0.6"/>
<rect x="114.2" y="99.9" width="5.8" height="5.8" fill="#000000" stroke="#000000" stroke-width="0.6"/>
<rect x="123.9" y="113.1" width="5.8" height="5.8" fill="#000000" stroke="#000000" stroke-width="0.6"/>
<rect x="133.5" y="119.7" width="5.8" height="5.8" fill="#000000" stroke="#000000" stroke-width="0.6"/>
<rect x="143.2" y="135.1" width="5.8" height="5.8" fill="#000000" stroke="#000000" stroke-width="0.6"/>
<rect x="152.9" y="142.7" width="5.8" height="5.8" fill="#000000" stroke="#000000" stroke-width="0.6"/>
<rect x="162.5" y="151.5" width="5.8" height="5.8" fill="#000000" stroke="#000000" stroke-width="0.6"/>
<rect x="172.2" y="158.1" width="5.8" height="5.8" fill="#000000" stroke="#000000" stroke-width="0.6"/>
<rect x="181.8" y="163.1" width="5.8" height="5.8" fill="#000000" stroke="#000000" stroke-width="0.6"/>
<rect x="191.5" y="167.5" width="5.8" height="5.8" fill="#000000" stroke="#000000" stroke-width="0.6"/>
<rect x="201.2" y="171.1" width="5.8" height="5.8" fill="#000000" stroke="#000000" stroke-width="0.6"/>
<rect x="210.8" y="174.7" width="5.8" height="5.8" fill="#000000" stroke="#000000" stroke-width="0.6"/>
<rect x="220.5" y="177.1" width="5.8" height="5.8" fill="#000000" stroke="#000000" stroke-width="0.6"/>
<rect x="230.1" y="180.1" width="5.8" height="5.8" fill="#000000" stroke="#000000" stroke-width="0.6"/>
<rect x="239.8" y="181.5" width="5.8" height="5.8" fill="#000000" stroke="#000000" stroke-width="0.6"/>
<rect x="249.5" y="184.1" width="5.8" height="5.8" fill="#000000" stroke="#000000" stroke-width="0.6"/>
<rect x="259.1" y="185.5" width="5.8" height="5.8" fill="#000000" stroke="#000000" stroke-width="0.6"/>
<rect x="268.8" y="186.7" width="5.8" height="5.8" fill="#000000" stroke="#000000" stroke-width="0.6"/>
<rect x="278.4" y="187.1" width="5.8" height="5.8" fill="#000000" stroke="#000000" stroke-width="0.6"/>
<rect x="288.1" y="188.1" width="5.8" height="5.8" fill="#000000" stroke="#000000" stroke-width="0.6"/>
<rect x="297.8" y="188.1" width="5.8" height="5.8" fill="#000000" stroke="#000000" stroke-width="0.6"/>
<rect x="307.4" y="188.7" width="5.8" height="5.8" fill="#000000" stroke="#000000" stroke-width="0.6"/>
<rect x="317.1" y="188.7" width="5.8" height="5.8" fill="#000000" stroke="#000000" stroke-width="0.6"/>
<rect x="326.7" y="188.9" width="5.8" height="5.8" fill="#000000" stroke="#000000" stroke-width="0.6"/>
<rect x="336.4" y="188.7" width="5.8" height="5.8" fill="#000000" stroke="#000000" stroke-width="0.6"/>
<rect x="346.1" y="188.7" width="5.8" height="5.8" fill="#000000" stroke="#000000" stroke-width="0.6"/>
<rect x="355.7" y="188.1" width="5.8" height="5.8" fill="#000000" stroke="#000000" stroke-width="0.6"/>
<rect x="365.4" y="189.5" width="5.8" height="5.8" fill="#000000" stroke="#000000" stroke-width="0.6"/>
<rect x="375.0" y="189.1" width="5.8" height="5.8" fill="#000000" stroke="#000000" stroke-width="0.6"/>
<rect x="384.7" y="187.5" width="5.8" height="5.8" fill="#000000" stroke="#000000" stroke-width="0.6"/>
<rect x="394.4" y="187.1" width="5.8" height="5.8" fill="#000000" stroke="#000000" stroke-width="0.6"/>
<rect x="404.0" y="188.1" width="5.8" height="5.8" fill="#000000" stroke="#000000" stroke-width="0.6"/>
<rect x="413.7" y="189.4" width="5.8" height="5.8" fill="#000000" stroke="#000000" stroke-width="0.6"/>
<rect x="423.3" y="199.3" width="5.8" height="5.8" fill="#000000" stroke="#000000" stroke-width="0.6"/>
<path d="M49.5 101.0C50.0 103.0 51.4 112.8 52.3 113.0C53.2 113.2 53.9 101.8 54.7 102.0C55.5 102.2 56.3 112.2 57.0 114.0C57.7 115.8 58.5 111.7 59.2 112.5C59.8 113.3 60.2 119.4 60.8 119.0C61.4 118.6 62.1 109.7 63.0 110.0C63.9 110.3 65.0 119.0 66.0 121.0C67.0 123.0 67.8 123.2 68.8 122.2C69.8 121.2 70.8 114.6 72.0 115.0C73.2 115.4 74.9 123.8 76.0 124.5C77.1 125.2 76.5 118.6 78.5 119.4C80.5 120.2 84.9 126.9 88.1 129.4C91.4 131.9 94.6 133.2 97.8 134.5C101.0 135.8 104.2 136.3 107.5 137.4C110.7 138.5 113.9 139.9 117.1 141.2C120.3 142.5 123.6 144.7 126.8 145.0C130.0 145.3 133.2 142.3 136.4 143.0C139.7 143.7 142.9 147.8 146.1 149.0C149.3 150.2 152.5 149.5 155.8 150.0C159.0 150.5 162.2 151.4 165.4 152.0C168.6 152.6 171.9 153.3 175.1 153.6C178.3 153.9 181.5 153.8 184.7 154.0C188.0 154.2 191.2 154.7 194.4 155.0C197.6 155.3 200.8 155.7 204.1 156.0C207.3 156.3 210.5 156.4 213.7 156.6C216.9 156.8 220.2 157.0 223.4 157.2C226.6 157.4 229.8 157.3 233.0 157.6C236.3 157.9 239.5 158.7 242.7 159.0C245.9 159.3 249.1 159.4 252.4 159.6C255.6 159.8 258.8 159.9 262.0 160.0C265.2 160.1 268.5 159.9 271.7 160.0C274.9 160.1 278.1 160.2 281.3 160.4C284.6 160.6 287.8 161.0 291.0 161.0C294.2 161.0 297.4 160.7 300.7 160.6C303.9 160.5 307.1 160.6 310.3 160.4C313.5 160.2 316.8 159.8 320.0 159.6C323.2 159.4 326.4 159.3 329.6 159.0C332.9 158.7 336.1 158.0 339.3 157.6C342.5 157.2 345.7 156.7 349.0 156.4C352.2 156.1 355.4 155.7 358.6 155.6C361.8 155.5 365.1 156.1 368.3 156.0C371.5 155.9 374.7 155.5 377.9 155.0C381.2 154.5 384.4 153.7 387.6 153.0C390.8 152.3 394.0 151.4 397.3 151.0C400.5 150.6 403.7 150.8 406.9 150.6C410.1 150.4 413.4 147.3 416.6 150.0C419.8 152.7 423.4 160.8 426.2 166.5C429.1 172.2 432.5 181.1 433.7 184.0" fill="none" stroke="#ff0000" stroke-width="0.9" stroke-linejoin="round"/>
<circle cx="49.5" cy="101.0" r="3.3" fill="#ff0000" stroke="#ff0000" stroke-width="0.6"/>
<circle cx="59.2" cy="112.5" r="3.3" fill="#ff0000" stroke="#ff0000" stroke-width="0.6"/>
<circle cx="68.8" cy="122.2" r="3.3" fill="#ff0000" stroke="#ff0000" stroke-width="0.6"/>
<circle cx="78.5" cy="119.4" r="3.3" fill="#ff0000" stroke="#ff0000" stroke-width="0.6"/>
<circle cx="88.1" cy="129.4" r="3.3" fill="#ff0000" stroke="#ff0000" stroke-width="0.6"/>
<circle cx="97.8" cy="134.5" r="3.3" fill="#ff0000" stroke="#ff0000" stroke-width="0.6"/>
<circle cx="107.5" cy="137.4" r="3.3" fill="#ff0000" stroke="#ff0000" stroke-width="0.6"/>
<circle cx="117.1" cy="141.2" r="3.3" fill="#ff0000" stroke="#ff0000" stroke-width="0.6"/>
<circle cx="126.8" cy="145.0" r="3.3" fill="#ff0000" stroke="#ff0000" stroke-width="0.6"/>
<circle cx="136.4" cy="143.0" r="3.3" fill="#ff0000" stroke="#ff0000" stroke-width="0.6"/>
<circle cx="146.1" cy="149.0" r="3.3" fill="#ff0000" stroke="#ff0000" stroke-width="0.6"/>
<circle cx="155.8" cy="150.0" r="3.3" fill="#ff0000" stroke="#ff0000" stroke-width="0.6"/>
<circle cx="165.4" cy="152.0" r="3.3" fill="#ff0000" stroke="#ff0000" stroke-width="0.6"/>
<circle cx="175.1" cy="153.6" r="3.3" fill="#ff0000" stroke="#ff0000" stroke-width="0.6"/>
<circle cx="184.7" cy="154.0" r="3.3" fill="#ff0000" stroke="#ff0000" stroke-width="0.6"/>
<circle cx="194.4" cy="155.0" r="3.3" fill="#ff0000" stroke="#ff0000" stroke-width="0.6"/>
<circle cx="204.1" cy="156.0" r="3.3" fill="#ff0000" stroke="#ff0000" stroke-width="0.6"/>
<circle cx="213.7" cy="156.6" r="3.3" fill="#ff0000" stroke="#ff0000" stroke-width="0.6"/>
<circle cx="223.4" cy="157.2" r="3.3" fill="#ff0000" stroke="#ff0000" stroke-width="0.6"/>
<circle cx="233.0" cy="157.6" r="3.3" fill="#ff0000" stroke="#ff0000" stroke-width="0.6"/>
<circle cx="242.7" cy="159.0" r="3.3" fill="#ff0000" stroke="#ff0000" stroke-width="0.6"/>
<circle cx="252.4" cy="159.6" r="3.3" fill="#ff0000" stroke="#ff0000" stroke-width="0.6"/>
<circle cx="262.0" cy="160.0" r="3.3" fill="#ff0000" stroke="#ff0000" stroke-width="0.6"/>
<circle cx="271.7" cy="160.0" r="3.3" fill="#ff0000" stroke="#ff0000" stroke-width="0.6"/>
<circle cx="281.3" cy="160.4" r="3.3" fill="#ff0000" stroke="#ff0000" stroke-width="0.6"/>
<circle cx="291.0" cy="161.0" r="3.3" fill="#ff0000" stroke="#ff0000" stroke-width="0.6"/>
<circle cx="300.7" cy="160.6" r="3.3" fill="#ff0000" stroke="#ff0000" stroke-width="0.6"/>
<circle cx="310.3" cy="160.4" r="3.3" fill="#ff0000" stroke="#ff0000" stroke-width="0.6"/>
<circle cx="320.0" cy="159.6" r="3.3" fill="#ff0000" stroke="#ff0000" stroke-width="0.6"/>
<circle cx="329.6" cy="159.0" r="3.3" fill="#ff0000" stroke="#ff0000" stroke-width="0.6"/>
<circle cx="339.3" cy="157.6" r="3.3" fill="#ff0000" stroke="#ff0000" stroke-width="0.6"/>
<circle cx="349.0" cy="156.4" r="3.3" fill="#ff0000" stroke="#ff0000" stroke-width="0.6"/>
<circle cx="358.6" cy="155.6" r="3.3" fill="#ff0000" stroke="#ff0000" stroke-width="0.6"/>
<circle cx="368.3" cy="156.0" r="3.3" fill="#ff0000" stroke="#ff0000" stroke-width="0.6"/>
<circle cx="377.9" cy="155.0" r="3.3" fill="#ff0000" stroke="#ff0000" stroke-width="0.6"/>
<circle cx="387.6" cy="153.0" r="3.3" fill="#ff0000" stroke="#ff0000" stroke-width="0.6"/>
<circle cx="397.3" cy="151.0" r="3.3" fill="#ff0000" stroke="#ff0000" stroke-width="0.6"/>
<circle cx="406.9" cy="150.6" r="3.3" fill="#ff0000" stroke="#ff0000" stroke-width="0.6"/>
<circle cx="416.6" cy="150.0" r="3.3" fill="#ff0000" stroke="#ff0000" stroke-width="0.6"/>
<circle cx="426.2" cy="166.5" r="3.3" fill="#ff0000" stroke="#ff0000" stroke-width="0.6"/>
<path d="M49.5 106.2C50.0 107.5 51.2 115.2 52.3 114.3C53.4 113.4 55.0 101.5 55.9 101.0C56.8 100.5 57.2 110.9 57.7 111.0C58.2 111.1 58.2 102.2 59.2 101.7C60.1 101.2 62.1 108.0 63.2 108.0C64.3 108.0 65.1 102.0 66.0 102.0C66.9 102.0 67.7 107.8 68.8 108.0C70.0 108.2 72.1 103.7 73.0 103.3C73.9 102.9 73.1 106.6 74.0 105.8C74.9 105.0 76.1 98.1 78.5 98.5C80.8 98.9 84.9 106.5 88.1 108.0C91.4 109.5 94.6 107.5 97.8 107.6C101.0 107.7 104.2 108.2 107.5 108.4C110.7 108.6 113.9 108.7 117.1 109.0C120.3 109.3 123.6 110.7 126.8 110.4C130.0 110.1 133.2 107.1 136.4 107.0C139.7 106.9 142.9 109.4 146.1 110.0C149.3 110.6 152.5 110.1 155.8 110.4C159.0 110.7 162.2 111.8 165.4 112.0C168.6 112.2 171.9 111.5 175.1 111.4C178.3 111.3 181.5 111.2 184.7 111.4C188.0 111.6 191.2 112.2 194.4 112.4C197.6 112.6 200.8 112.3 204.1 112.4C207.3 112.5 210.5 112.9 213.7 113.0C216.9 113.1 220.2 112.9 223.4 113.0C226.6 113.1 229.8 113.4 233.0 113.6C236.3 113.8 239.5 113.8 242.7 114.0C245.9 114.2 249.1 114.4 252.4 114.6C255.6 114.8 258.8 114.9 262.0 115.0C265.2 115.1 268.5 115.1 271.7 115.0C274.9 114.9 278.1 114.5 281.3 114.6C284.6 114.7 287.8 115.4 291.0 115.4C294.2 115.4 297.4 114.9 300.7 114.6C303.9 114.3 307.1 113.7 310.3 113.4C313.5 113.1 316.8 112.9 320.0 112.6C323.2 112.3 326.4 112.0 329.6 111.4C332.9 110.8 336.1 109.8 339.3 109.0C342.5 108.2 345.7 107.3 349.0 106.6C352.2 105.9 355.4 104.9 358.6 104.6C361.8 104.3 365.1 105.2 368.3 105.0C371.5 104.8 374.7 103.9 377.9 103.4C381.2 102.9 384.4 102.3 387.6 102.0C390.8 101.7 394.0 100.9 397.3 101.4C400.5 101.9 403.7 102.6 406.9 105.0C410.1 107.4 413.4 106.2 416.6 116.0C419.8 125.8 423.4 149.7 426.2 163.7C429.1 177.7 432.3 193.9 433.5 200.0" fill="none" stroke="#00ee00" stroke-width="0.9" stroke-linejoin="round"/>
<path d="M45.6 108.3L53.4 108.3L49.5 102.1Z" fill="#00ee00" stroke="#00ee00" stroke-width="0.6"/>
<path d="M55.3 103.8L63.1 103.8L59.2 97.6Z" fill="#00ee00" stroke="#00ee00" stroke-width="0.6"/>
<path d="M64.9 110.1L72.7 110.1L68.8 103.9Z" fill="#00ee00" stroke="#00ee00" stroke-width="0.6"/>
<path d="M74.6 100.6L82.4 100.6L78.5 94.4Z" fill="#00ee00" stroke="#00ee00" stroke-width="0.6"/>
<path d="M84.2 110.1L92.0 110.1L88.1 103.9Z" fill="#00ee00" stroke="#00ee00" stroke-width="0.6"/>
<path d="M93.9 109.7L101.7 109.7L97.8 103.5Z" fill="#00ee00" stroke="#00ee00" stroke-width="0.6"/>
<path d="M103.6 110.5L111.4 110.5L107.5 104.3Z" fill="#00ee00" stroke="#00ee00" stroke-width="0.6"/>
<path d="M113.2 111.1L121.0 111.1L117.1 104.9Z" fill="#00ee00" stroke="#00ee00" stroke-width="0.6"/>
<path d="M122.9 112.5L130.7 112.5L126.8 106.3Z" fill="#00ee00" stroke="#00ee00" stroke-width="0.6"/>
<path d="M132.5 109.1L140.3 109.1L136.4 102.9Z" fill="#00ee00" stroke="#00ee00" stroke-width="0.6"/>
<path d="M142.2 112.1L150.0 112.1L146.1 105.9Z" fill="#00ee00" stroke="#00ee00" stroke-width="0.6"/>
<path d="M151.9 112.5L159.7 112.5L155.8 106.3Z" fill="#00ee00" stroke="#00ee00" stroke-width="0.6"/>
<path d="M161.5 114.1L169.3 114.1L165.4 107.9Z" fill="#00ee00" stroke="#00ee00" stroke-width="0.6"/>
<path d="M171.2 113.5L179.0 113.5L175.1 107.3Z" fill="#00ee00" stroke="#00ee00" stroke-width="0.6"/>
<path d="M180.8 113.5L188.6 113.5L184.7 107.3Z" fill="#00ee00" stroke="#00ee00" stroke-width="0.6"/>
<path d="M190.5 114.5L198.3 114.5L194.4 108.3Z" fill="#00ee00" stroke="#00ee00" stroke-width="0.6"/>
<path d="M200.2 114.5L208.0 114.5L204.1 108.3Z" fill="#00ee00" stroke="#00ee00" stroke-width="0.6"/>
<path d="M209.8 115.1L217.6 115.1L213.7 108.9Z" fill="#00ee00" stroke="#00ee00" stroke-width="0.6"/>
<path d="M219.5 115.1L227.3 115.1L223.4 108.9Z" fill="#00ee00" stroke="#00ee00" stroke-width="0.6"/>
<path d="M229.1 115.7L236.9 115.7L233.0 109.5Z" fill="#00ee00" stroke="#00ee00" stroke-width="0.6"/>
<path d="M238.8 116.1L246.6 116.1L242.7 109.9Z" fill="#00ee00" stroke="#00ee00" stroke-width="0.6"/>
<path d="M248.5 116.7L256.3 116.7L252.4 110.5Z" fill="#00ee00" stroke="#00ee00" stroke-width="0.6"/>
<path d="M258.1 117.1L265.9 117.1L262.0 110.9Z" fill="#00ee00" stroke="#00ee00" stroke-width="0.6"/>
<path d="M267.8 117.1L275.6 117.1L271.7 110.9Z" fill="#00ee00" stroke="#00ee00" stroke-width="0.6"/>
<path d="M277.4 116.7L285.2 116.7L281.3 110.5Z" fill="#00ee00" stroke="#00ee00" stroke-width="0.6"/>
<path d="M287.1 117.5L294.9 117.5L291.0 111.3Z" fill="#00ee00" stroke="#00ee00" stroke-width="0.6"/>
<path d="M296.8 116.7L304.6 116.7L300.7 110.5Z" fill="#00ee00" stroke="#00ee00" stroke-width="0.6"/>
<path d="M306.4 115.5L314.2 115.5L310.3 109.3Z" fill="#00ee00" stroke="#00ee00" stroke-width="0.6"/>
<path d="M316.1 114.7L323.9 114.7L320.0 108.5Z" fill="#00ee00" stroke="#00ee00" stroke-width="0.6"/>
<path d="M325.7 113.5L333.5 113.5L329.6 107.3Z" fill="#00ee00" stroke="#00ee00" stroke-width="0.6"/>
<path d="M335.4 111.1L343.2 111.1L339.3 104.9Z" fill="#00ee00" stroke="#00ee00" stroke-width="0.6"/>
<path d="M345.1 108.7L352.9 108.7L349.0 102.5Z" fill="#00ee00" stroke="#00ee00" stroke-width="0.6"/>
<path d="M354.7 106.7L362.5 106.7L358.6 100.5Z" fill="#00ee00" stroke="#00ee00" stroke-width="0.6"/>
<path d="M364.4 107.1L372.2 107.1L368.3 100.9Z" fill="#00ee00" stroke="#00ee00" stroke-width="0.6"/>
<path d="M374.0 105.5L381.8 105.5L377.9 99.3Z" fill="#00ee00" stroke="#00ee00" stroke-width="0.6"/>
<path d="M383.7 104.1L391.5 104.1L387.6 97.9Z" fill="#00ee00" stroke="#00ee00" stroke-width="0.6"/>
<path d="M393.4 103.5L401.2 103.5L397.3 97.3Z" fill="#00ee00" stroke="#00ee00" stroke-width="0.6"/>
<path d="M403.0 107.1L410.8 107.1L406.9 100.9Z" fill="#00ee00" stroke="#00ee00" stroke-width="0.6"/>
<path d="M412.7 118.1L420.5 118.1L416.6 111.9Z" fill="#00ee00" stroke="#00ee00" stroke-width="0.6"/>
<path d="M422.3 165.8L430.1 165.8L426.2 159.6Z" fill="#00ee00" stroke="#00ee00" stroke-width="0.6"/>
<path d="M49.5 65.1C50.0 66.7 51.2 74.3 52.2 74.4C53.2 74.5 54.1 67.9 55.3 65.9C56.5 64.0 58.0 62.1 59.2 62.7C60.4 63.3 61.6 69.2 62.5 69.5C63.4 69.8 63.3 64.5 64.4 64.7C65.5 64.9 67.5 70.3 68.8 70.7C70.1 71.1 71.4 68.3 72.2 67.1C73.0 65.9 73.0 63.6 73.5 63.5C74.0 63.4 74.5 67.1 75.3 66.5C76.1 65.9 77.2 59.8 78.5 60.1C79.8 60.4 81.6 66.8 83.2 68.3C84.8 69.8 85.7 69.1 88.1 69.1C90.6 69.1 94.6 68.1 97.8 68.3C101.0 68.5 104.2 69.6 107.5 70.1C110.7 70.6 113.9 70.6 117.1 71.1C120.3 71.6 123.6 73.5 126.8 73.1C130.0 72.7 133.2 68.6 136.4 68.7C139.7 68.8 142.9 73.0 146.1 73.7C149.3 74.4 152.5 72.8 155.8 73.1C159.0 73.4 162.2 75.5 165.4 75.7C168.6 75.9 171.9 74.7 175.1 74.5C178.3 74.3 181.5 74.3 184.7 74.5C188.0 74.7 191.2 75.5 194.4 75.7C197.6 75.9 200.8 75.6 204.1 75.7C207.3 75.8 210.5 76.3 213.7 76.5C216.9 76.7 220.2 76.8 223.4 77.1C226.6 77.4 229.8 77.9 233.0 78.1C236.3 78.3 239.5 78.0 242.7 78.1C245.9 78.2 249.1 78.3 252.4 78.5C255.6 78.7 258.8 79.0 262.0 79.1C265.2 79.2 268.5 79.1 271.7 79.1C274.9 79.1 278.1 79.1 281.3 79.1C284.6 79.1 287.8 79.3 291.0 79.1C294.2 78.9 297.4 78.4 300.7 78.1C303.9 77.8 307.1 77.5 310.3 77.1C313.5 76.7 316.8 76.3 320.0 75.7C323.2 75.1 326.4 74.3 329.6 73.4C332.9 72.5 336.1 71.4 339.3 70.5C342.5 69.6 345.7 68.8 349.0 68.1C352.2 67.4 355.4 66.3 358.6 66.1C361.8 65.9 365.1 67.0 368.3 67.1C371.5 67.2 374.7 66.6 377.9 66.5C381.2 66.4 384.4 66.3 387.6 66.5C390.8 66.7 394.0 65.3 397.3 67.7C400.5 70.1 403.7 73.2 406.9 80.6C410.1 88.0 413.4 94.9 416.6 112.1C419.8 129.3 423.4 166.5 426.2 183.7C429.1 200.8 432.3 209.8 433.5 215.0" fill="none" stroke="#0000ff" stroke-width="0.9" stroke-linejoin="round"/>
<path d="M45.6 62.8L53.4 62.8L49.5 69.0Z" fill="#0000ff" stroke="#0000ff" stroke-width="0.6"/>
<path d="M55.3 60.4L63.1 60.4L59.2 66.6Z" fill="#0000ff" stroke="#0000ff" stroke-width="0.6"/>
<path d="M64.9 68.4L72.7 68.4L68.8 74.6Z" fill="#0000ff" stroke="#0000ff" stroke-width="0.6"/>
<path d="M74.6 57.8L82.4 57.8L78.5 64.0Z" fill="#0000ff" stroke="#0000ff" stroke-width="0.6"/>
<path d="M84.2 66.8L92.0 66.8L88.1 73.0Z" fill="#0000ff" stroke="#0000ff" stroke-width="0.6"/>
<path d="M93.9 66.0L101.7 66.0L97.8 72.2Z" fill="#0000ff" stroke="#0000ff" stroke-width="0.6"/>
<path d="M103.6 67.8L111.4 67.8L107.5 74.0Z" fill="#0000ff" stroke="#0000ff" stroke-width="0.6"/>
<path d="M113.2 68.8L121.0 68.8L117.1 75.0Z" fill="#0000ff" stroke="#0000ff" stroke-width="0.6"/>
<path d="M122.9 70.8L130.7 70.8L126.8 77.0Z" fill="#0000ff" stroke="#0000ff" stroke-width="0.6"/>
<path d="M132.5 66.4L140.3 66.4L136.4 72.6Z" fill="#0000ff" stroke="#0000ff" stroke-width="0.6"/>
<path d="M142.2 71.4L150.0 71.4L146.1 77.6Z" fill="#0000ff" stroke="#0000ff" stroke-width="0.6"/>
<path d="M151.9 70.8L159.7 70.8L155.8 77.0Z" fill="#0000ff" stroke="#0000ff" stroke-width="0.6"/>
<path d="M161.5 73.4L169.3 73.4L165.4 79.6Z" fill="#0000ff" stroke="#0000ff" stroke-width="0.6"/>
<path d="M171.2 72.2L179.0 72.2L175.1 78.4Z" fill="#0000ff" stroke="#0000ff" stroke-width="0.6"/>
<path d="M180.8 72.2L188.6 72.2L184.7 78.4Z" fill="#0000ff" stroke="#0000ff" stroke-width="0.6"/>
<path d="M190.5 73.4L198.3 73.4L194.4 79.6Z" fill="#0000ff" stroke="#0000ff" stroke-width="0.6"/>
<path d="M200.2 73.4L208.0 73.4L204.1 79.6Z" fill="#0000ff" stroke="#0000ff" stroke-width="0.6"/>
<path d="M209.8 74.2L217.6 74.2L213.7 80.4Z" fill="#0000ff" stroke="#0000ff" stroke-width="0.6"/>
<path d="M219.5 74.8L227.3 74.8L223.4 81.0Z" fill="#0000ff" stroke="#0000ff" stroke-width="0.6"/>
<path d="M229.1 75.8L236.9 75.8L233.0 82.0Z" fill="#0000ff" stroke="#0000ff" stroke-width="0.6"/>
<path d="M238.8 75.8L246.6 75.8L242.7 82.0Z" fill="#0000ff" stroke="#0000ff" stroke-width="0.6"/>
<path d="M248.5 76.2L256.3 76.2L252.4 82.4Z" fill="#0000ff" stroke="#0000ff" stroke-width="0.6"/>
<path d="M258.1 76.8L265.9 76.8L262.0 83.0Z" fill="#0000ff" stroke="#0000ff" stroke-width="0.6"/>
<path d="M267.8 76.8L275.6 76.8L271.7 83.0Z" fill="#0000ff" stroke="#0000ff" stroke-width="0.6"/>
<path d="M277.4 76.8L285.2 76.8L281.3 83.0Z" fill="#0000ff" stroke="#0000ff" stroke-width="0.6"/>
<path d="M287.1 76.8L294.9 76.8L291.0 83.0Z" fill="#0000ff" stroke="#0000ff" stroke-width="0.6"/>
<path d="M296.8 75.8L304.6 75.8L300.7 82.0Z" fill="#0000ff" stroke="#0000ff" stroke-width="0.6"/>
<path d="M306.4 74.8L314.2 74.8L310.3 81.0Z" fill="#0000ff" stroke="#0000ff" stroke-width="0.6"/>
<path d="M316.1 73.4L323.9 73.4L320.0 79.6Z" fill="#0000ff" stroke="#0000ff" stroke-width="0.6"/>
<path d="M325.7 71.1L333.5 71.1L329.6 77.3Z" fill="#0000ff" stroke="#0000ff" stroke-width="0.6"/>
<path d="M335.4 68.2L343.2 68.2L339.3 74.4Z" fill="#0000ff" stroke="#0000ff" stroke-width="0.6"/>
<path d="M345.1 65.8L352.9 65.8L349.0 72.0Z" fill="#0000ff" stroke="#0000ff" stroke-width="0.6"/>
<path d="M354.7 63.8L362.5 63.8L358.6 70.0Z" fill="#0000ff" stroke="#0000ff" stroke-width="0.6"/>
<path d="M364.4 64.8L372.2 64.8L368.3 71.0Z" fill="#0000ff" stroke="#0000ff" stroke-width="0.6"/>
<path d="M374.0 64.2L381.8 64.2L377.9 70.4Z" fill="#0000ff" stroke="#0000ff" stroke-width="0.6"/>
<path d="M383.7 64.2L391.5 64.2L387.6 70.4Z" fill="#0000ff" stroke="#0000ff" stroke-width="0.6"/>
<path d="M393.4 65.4L401.2 65.4L397.3 71.6Z" fill="#0000ff" stroke="#0000ff" stroke-width="0.6"/>
<path d="M403.0 78.3L410.8 78.3L406.9 84.5Z" fill="#0000ff" stroke="#0000ff" stroke-width="0.6"/>
<path d="M412.7 109.8L420.5 109.8L416.6 116.0Z" fill="#0000ff" stroke="#0000ff" stroke-width="0.6"/>
<path d="M422.3 181.4L430.1 181.4L426.2 187.6Z" fill="#0000ff" stroke="#0000ff" stroke-width="0.6"/>
<path d="M49.5 36.0C49.9 38.2 50.6 49.9 51.6 49.5C52.6 49.1 54.2 36.0 55.5 33.5C56.8 31.0 58.3 32.5 59.2 34.4C60.0 36.3 60.0 44.6 60.7 45.0C61.4 45.4 62.1 37.7 63.5 37.0C64.9 36.3 67.4 40.6 68.8 40.6C70.2 40.6 71.0 36.9 72.0 37.0C73.0 37.1 73.7 42.8 74.8 41.5C75.9 40.2 77.1 30.0 78.5 29.4C79.8 28.8 81.4 35.7 83.0 38.0C84.6 40.3 85.7 42.5 88.1 43.0C90.6 43.5 94.6 40.9 97.8 41.0C101.0 41.1 104.2 43.0 107.5 43.6C110.7 44.2 113.9 43.8 117.1 44.6C120.3 45.4 123.6 49.0 126.8 48.6C130.0 48.2 133.2 42.2 136.4 42.4C139.7 42.6 142.9 48.6 146.1 49.6C149.3 50.6 152.5 48.3 155.8 48.6C159.0 48.9 162.2 51.2 165.4 51.6C168.6 52.0 171.9 51.0 175.1 51.0C178.3 51.0 181.5 51.3 184.7 51.6C188.0 51.9 191.2 52.8 194.4 53.0C197.6 53.2 200.8 52.8 204.1 53.0C207.3 53.2 210.5 54.1 213.7 54.4C216.9 54.7 220.2 54.7 223.4 55.0C226.6 55.3 229.8 56.1 233.0 56.4C236.3 56.7 239.5 56.7 242.7 57.0C245.9 57.3 249.1 57.7 252.4 58.0C255.6 58.3 258.8 58.8 262.0 59.0C265.2 59.2 268.5 59.1 271.7 59.0C274.9 58.9 278.1 58.4 281.3 58.4C284.6 58.4 287.8 59.1 291.0 59.0C294.2 58.9 297.4 58.1 300.7 57.6C303.9 57.1 307.1 56.6 310.3 56.0C313.5 55.4 316.8 54.7 320.0 54.0C323.2 53.3 326.4 52.4 329.6 51.6C332.9 50.8 336.1 50.1 339.3 49.0C342.5 47.9 345.7 46.1 349.0 45.0C352.2 43.9 355.4 42.8 358.6 42.6C361.8 42.4 365.1 43.8 368.3 44.0C371.5 44.2 374.7 43.5 377.9 44.0C381.2 44.5 384.4 45.0 387.6 47.0C390.8 49.0 394.0 50.5 397.3 56.0C400.5 61.5 403.7 68.0 406.9 80.0C410.1 92.0 414.2 113.3 416.6 128.3C418.9 143.3 419.6 158.1 421.0 170.0C422.4 181.9 423.1 190.3 425.0 200.0C426.9 209.7 431.2 223.3 432.5 228.0" fill="none" stroke="#00f4f0" stroke-width="0.9" stroke-linejoin="round"/>
<path d="M49.5 32.3L53.2 36.0L49.5 39.7L45.8 36.0Z" fill="#00f4f0" stroke="#00f4f0" stroke-width="0.6"/>
<path d="M59.2 30.7L62.9 34.4L59.2 38.1L55.5 34.4Z" fill="#00f4f0" stroke="#00f4f0" stroke-width="0.6"/>
<path d="M68.8 36.9L72.5 40.6L68.8 44.3L65.1 40.6Z" fill="#00f4f0" stroke="#00f4f0" stroke-width="0.6"/>
<path d="M78.5 25.7L82.2 29.4L78.5 33.1L74.8 29.4Z" fill="#00f4f0" stroke="#00f4f0" stroke-width="0.6"/>
<path d="M88.1 39.3L91.8 43.0L88.1 46.7L84.4 43.0Z" fill="#00f4f0" stroke="#00f4f0" stroke-width="0.6"/>
<path d="M97.8 37.3L101.5 41.0L97.8 44.7L94.1 41.0Z" fill="#00f4f0" stroke="#00f4f0" stroke-width="0.6"/>
<path d="M107.5 39.9L111.2 43.6L107.5 47.3L103.8 43.6Z" fill="#00f4f0" stroke="#00f4f0" stroke-width="0.6"/>
<path d="M117.1 40.9L120.8 44.6L117.1 48.3L113.4 44.6Z" fill="#00f4f0" stroke="#00f4f0" stroke-width="0.6"/>
<path d="M126.8 44.9L130.5 48.6L126.8 52.3L123.1 48.6Z" fill="#00f4f0" stroke="#00f4f0" stroke-width="0.6"/>
<path d="M136.4 38.7L140.1 42.4L136.4 46.1L132.7 42.4Z" fill="#00f4f0" stroke="#00f4f0" stroke-width="0.6"/>
<path d="M146.1 45.9L149.8 49.6L146.1 53.3L142.4 49.6Z" fill="#00f4f0" stroke="#00f4f0" stroke-width="0.6"/>
<path d="M155.8 44.9L159.5 48.6L155.8 52.3L152.1 48.6Z" fill="#00f4f0" stroke="#00f4f0" stroke-width="0.6"/>
<path d="M165.4 47.9L169.1 51.6L165.4 55.3L161.7 51.6Z" fill="#00f4f0" stroke="#00f4f0" stroke-width="0.6"/>
<path d="M175.1 47.3L178.8 51.0L175.1 54.7L171.4 51.0Z" fill="#00f4f0" stroke="#00f4f0" stroke-width="0.6"/>
<path d="M184.7 47.9L188.4 51.6L184.7 55.3L181.0 51.6Z" fill="#00f4f0" stroke="#00f4f0" stroke-width="0.6"/>
<path d="M194.4 49.3L198.1 53.0L194.4 56.7L190.7 53.0Z" fill="#00f4f0" stroke="#00f4f0" stroke-width="0.6"/>
<path d="M204.1 49.3L207.8 53.0L204.1 56.7L200.4 53.0Z" fill="#00f4f0" stroke="#00f4f0" stroke-width="0.6"/>
<path d="M213.7 50.7L217.4 54.4L213.7 58.1L210.0 54.4Z" fill="#00f4f0" stroke="#00f4f0" stroke-width="0.6"/>
<path d="M223.4 51.3L227.1 55.0L223.4 58.7L219.7 55.0Z" fill="#00f4f0" stroke="#00f4f0" stroke-width="0.6"/>
<path d="M233.0 52.7L236.7 56.4L233.0 60.1L229.3 56.4Z" fill="#00f4f0" stroke="#00f4f0" stroke-width="0.6"/>
<path d="M242.7 53.3L246.4 57.0L242.7 60.7L239.0 57.0Z" fill="#00f4f0" stroke="#00f4f0" stroke-width="0.6"/>
<path d="M252.4 54.3L256.1 58.0L252.4 61.7L248.7 58.0Z" fill="#00f4f0" stroke="#00f4f0" stroke-width="0.6"/>
<path d="M262.0 55.3L265.7 59.0L262.0 62.7L258.3 59.0Z" fill="#00f4f0" stroke="#00f4f0" stroke-width="0.6"/>
<path d="M271.7 55.3L275.4 59.0L271.7 62.7L268.0 59.0Z" fill="#00f4f0" stroke="#00f4f0" stroke-width="0.6"/>
<path d="M281.3 54.7L285.0 58.4L281.3 62.1L277.6 58.4Z" fill="#00f4f0" stroke="#00f4f0" stroke-width="0.6"/>
<path d="M291.0 55.3L294.7 59.0L291.0 62.7L287.3 59.0Z" fill="#00f4f0" stroke="#00f4f0" stroke-width="0.6"/>
<path d="M300.7 53.9L304.4 57.6L300.7 61.3L297.0 57.6Z" fill="#00f4f0" stroke="#00f4f0" stroke-width="0.6"/>
<path d="M310.3 52.3L314.0 56.0L310.3 59.7L306.6 56.0Z" fill="#00f4f0" stroke="#00f4f0" stroke-width="0.6"/>
<path d="M320.0 50.3L323.7 54.0L320.0 57.7L316.3 54.0Z" fill="#00f4f0" stroke="#00f4f0" stroke-width="0.6"/>
<path d="M329.6 47.9L333.3 51.6L329.6 55.3L325.9 51.6Z" fill="#00f4f0" stroke="#00f4f0" stroke-width="0.6"/>
<path d="M339.3 45.3L343.0 49.0L339.3 52.7L335.6 49.0Z" fill="#00f4f0" stroke="#00f4f0" stroke-width="0.6"/>
<path d="M349.0 41.3L352.7 45.0L349.0 48.7L345.3 45.0Z" fill="#00f4f0" stroke="#00f4f0" stroke-width="0.6"/>
<path d="M358.6 38.9L362.3 42.6L358.6 46.3L354.9 42.6Z" fill="#00f4f0" stroke="#00f4f0" stroke-width="0.6"/>
<path d="M368.3 40.3L372.0 44.0L368.3 47.7L364.6 44.0Z" fill="#00f4f0" stroke="#00f4f0" stroke-width="0.6"/>
<path d="M377.9 40.3L381.6 44.0L377.9 47.7L374.2 44.0Z" fill="#00f4f0" stroke="#00f4f0" stroke-width="0.6"/>
<path d="M387.6 43.3L391.3 47.0L387.6 50.7L383.9 47.0Z" fill="#00f4f0" stroke="#00f4f0" stroke-width="0.6"/>
<path d="M397.3 52.3L401.0 56.0L397.3 59.7L393.6 56.0Z" fill="#00f4f0" stroke="#00f4f0" stroke-width="0.6"/>
<path d="M406.9 76.3L410.6 80.0L406.9 83.7L403.2 80.0Z" fill="#00f4f0" stroke="#00f4f0" stroke-width="0.6"/>
<path d="M416.6 124.6L420.3 128.3L416.6 132.0L412.9 128.3Z" fill="#00f4f0" stroke="#00f4f0" stroke-width="0.6"/>
<path d="M50.5 84.0C50.8 85.2 50.6 92.5 52.2 91.4C53.8 90.3 58.5 78.1 60.2 77.4C61.8 76.7 61.4 86.4 62.0 87.0C62.6 87.6 63.3 81.3 64.0 81.0C64.7 80.7 65.0 84.6 66.0 85.0C67.0 85.4 68.7 84.2 69.8 83.4C70.9 82.6 70.9 81.6 72.5 80.0C74.1 78.4 77.9 73.9 79.5 74.0C81.0 74.1 80.2 78.9 81.8 80.5C83.4 82.1 86.3 83.2 89.1 83.4C92.0 83.6 95.6 81.6 98.8 81.4C102.0 81.2 105.2 81.7 108.5 82.0C111.7 82.3 114.9 82.6 118.1 83.0C121.3 83.4 124.6 85.1 127.8 84.6C131.0 84.1 134.2 80.2 137.4 80.0C140.7 79.8 143.9 82.9 147.1 83.5C150.3 84.1 153.5 83.3 156.8 83.6C160.0 83.8 163.2 84.9 166.4 85.0C169.6 85.1 172.9 84.5 176.1 84.4C179.3 84.3 182.5 84.3 185.7 84.4C189.0 84.5 192.2 84.9 195.4 85.0C198.6 85.1 201.8 84.9 205.1 85.0C208.3 85.1 211.5 85.5 214.7 85.6C217.9 85.7 221.2 85.5 224.4 85.6C227.6 85.7 230.8 86.2 234.0 86.4C237.3 86.6 240.5 86.9 243.7 87.0C246.9 87.1 250.1 86.9 253.4 87.0C256.6 87.1 259.8 87.5 263.0 87.6C266.2 87.7 269.5 87.7 272.7 87.6C275.9 87.5 279.1 87.1 282.3 87.0C285.6 86.9 288.8 87.2 292.0 87.0C295.2 86.8 298.4 86.4 301.7 86.0C304.9 85.6 308.1 85.0 311.3 84.4C314.5 83.8 317.8 83.1 321.0 82.4C324.2 81.8 327.4 81.2 330.6 80.5C333.9 79.8 337.1 78.7 340.3 78.0C343.5 77.3 346.7 77.0 350.0 76.4C353.2 75.8 356.4 74.9 359.6 74.4C362.8 73.9 366.1 73.9 369.3 73.6C372.5 73.3 375.7 73.0 378.9 72.4C382.2 71.8 385.4 70.2 388.6 70.0C391.8 69.8 395.0 69.1 398.3 71.0C401.5 72.9 404.7 74.3 407.9 81.2C411.1 88.1 414.4 94.6 417.6 112.4C420.8 130.2 425.3 173.7 427.2 188.0C429.1 202.3 428.0 194.5 429.0 198.5C430.0 202.5 432.8 209.8 433.5 212.0" fill="none" stroke="#ff00ff" stroke-width="0.9" stroke-linejoin="round"/>
<path d="M52.6 80.7L52.6 87.3L46.4 84.0Z" fill="#ff00ff" stroke="#ff00ff" stroke-width="0.6"/>
<path d="M62.3 74.1L62.3 80.7L56.0 77.4Z" fill="#ff00ff" stroke="#ff00ff" stroke-width="0.6"/>
<path d="M72.0 80.1L72.0 86.7L65.7 83.4Z" fill="#ff00ff" stroke="#ff00ff" stroke-width="0.6"/>
<path d="M81.6 70.7L81.6 77.3L75.3 74.0Z" fill="#ff00ff" stroke="#ff00ff" stroke-width="0.6"/>
<path d="M91.3 80.1L91.3 86.7L85.0 83.4Z" fill="#ff00ff" stroke="#ff00ff" stroke-width="0.6"/>
<path d="M100.9 78.1L100.9 84.7L94.7 81.4Z" fill="#ff00ff" stroke="#ff00ff" stroke-width="0.6"/>
<path d="M110.6 78.7L110.6 85.3L104.3 82.0Z" fill="#ff00ff" stroke="#ff00ff" stroke-width="0.6"/>
<path d="M120.3 79.7L120.3 86.3L114.0 83.0Z" fill="#ff00ff" stroke="#ff00ff" stroke-width="0.6"/>
<path d="M129.9 81.3L129.9 87.9L123.6 84.6Z" fill="#ff00ff" stroke="#ff00ff" stroke-width="0.6"/>
<path d="M139.6 76.7L139.6 83.3L133.3 80.0Z" fill="#ff00ff" stroke="#ff00ff" stroke-width="0.6"/>
<path d="M149.2 80.2L149.2 86.8L143.0 83.5Z" fill="#ff00ff" stroke="#ff00ff" stroke-width="0.6"/>
<path d="M158.9 80.3L158.9 86.9L152.6 83.6Z" fill="#ff00ff" stroke="#ff00ff" stroke-width="0.6"/>
<path d="M168.6 81.7L168.6 88.3L162.3 85.0Z" fill="#ff00ff" stroke="#ff00ff" stroke-width="0.6"/>
<path d="M178.2 81.1L178.2 87.7L171.9 84.4Z" fill="#ff00ff" stroke="#ff00ff" stroke-width="0.6"/>
<path d="M187.9 81.1L187.9 87.7L181.6 84.4Z" fill="#ff00ff" stroke="#ff00ff" stroke-width="0.6"/>
<path d="M197.5 81.7L197.5 88.3L191.3 85.0Z" fill="#ff00ff" stroke="#ff00ff" stroke-width="0.6"/>
<path d="M207.2 81.7L207.2 88.3L200.9 85.0Z" fill="#ff00ff" stroke="#ff00ff" stroke-width="0.6"/>
<path d="M216.9 82.3L216.9 88.9L210.6 85.6Z" fill="#ff00ff" stroke="#ff00ff" stroke-width="0.6"/>
<path d="M226.5 82.3L226.5 88.9L220.2 85.6Z" fill="#ff00ff" stroke="#ff00ff" stroke-width="0.6"/>
<path d="M236.2 83.1L236.2 89.7L229.9 86.4Z" fill="#ff00ff" stroke="#ff00ff" stroke-width="0.6"/>
<path d="M245.8 83.7L245.8 90.3L239.6 87.0Z" fill="#ff00ff" stroke="#ff00ff" stroke-width="0.6"/>
<path d="M255.5 83.7L255.5 90.3L249.2 87.0Z" fill="#ff00ff" stroke="#ff00ff" stroke-width="0.6"/>
<path d="M265.2 84.3L265.2 90.9L258.9 87.6Z" fill="#ff00ff" stroke="#ff00ff" stroke-width="0.6"/>
<path d="M274.8 84.3L274.8 90.9L268.5 87.6Z" fill="#ff00ff" stroke="#ff00ff" stroke-width="0.6"/>
<path d="M284.5 83.7L284.5 90.3L278.2 87.0Z" fill="#ff00ff" stroke="#ff00ff" stroke-width="0.6"/>
<path d="M294.1 83.7L294.1 90.3L287.9 87.0Z" fill="#ff00ff" stroke="#ff00ff" stroke-width="0.6"/>
<path d="M303.8 82.7L303.8 89.3L297.5 86.0Z" fill="#ff00ff" stroke="#ff00ff" stroke-width="0.6"/>
<path d="M313.5 81.1L313.5 87.7L307.2 84.4Z" fill="#ff00ff" stroke="#ff00ff" stroke-width="0.6"/>
<path d="M323.1 79.1L323.1 85.7L316.8 82.4Z" fill="#ff00ff" stroke="#ff00ff" stroke-width="0.6"/>
<path d="M332.8 77.2L332.8 83.8L326.5 80.5Z" fill="#ff00ff" stroke="#ff00ff" stroke-width="0.6"/>
<path d="M342.4 74.7L342.4 81.3L336.2 78.0Z" fill="#ff00ff" stroke="#ff00ff" stroke-width="0.6"/>
<path d="M352.1 73.1L352.1 79.7L345.8 76.4Z" fill="#ff00ff" stroke="#ff00ff" stroke-width="0.6"/>
<path d="M361.8 71.1L361.8 77.7L355.5 74.4Z" fill="#ff00ff" stroke="#ff00ff" stroke-width="0.6"/>
<path d="M371.4 70.3L371.4 76.9L365.1 73.6Z" fill="#ff00ff" stroke="#ff00ff" stroke-width="0.6"/>
<path d="M381.1 69.1L381.1 75.7L374.8 72.4Z" fill="#ff00ff" stroke="#ff00ff" stroke-width="0.6"/>
<path d="M390.7 66.7L390.7 73.3L384.5 70.0Z" fill="#ff00ff" stroke="#ff00ff" stroke-width="0.6"/>
<path d="M400.4 67.7L400.4 74.3L394.1 71.0Z" fill="#ff00ff" stroke="#ff00ff" stroke-width="0.6"/>
<path d="M410.1 77.9L410.1 84.5L403.8 81.2Z" fill="#ff00ff" stroke="#ff00ff" stroke-width="0.6"/>
<path d="M419.7 109.1L419.7 115.7L413.4 112.4Z" fill="#ff00ff" stroke="#ff00ff" stroke-width="0.6"/>
<path d="M429.4 184.7L429.4 191.3L423.1 188.0Z" fill="#ff00ff" stroke="#ff00ff" stroke-width="0.6"/>
</g>
<rect x="49" y="0.9" width="385" height="283.8" fill="none" stroke="#000" stroke-width="2"/>
<g stroke="#000" stroke-width="2">
<line x1="41.4" y1="284.7" x2="49" y2="284.7"/>
<line x1="45" y1="262.5" x2="49" y2="262.5"/>
<line x1="41.4" y1="240.4" x2="49" y2="240.4"/>
<line x1="45" y1="218.2" x2="49" y2="218.2"/>
<line x1="41.4" y1="196.1" x2="49" y2="196.1"/>
<line x1="45" y1="173.9" x2="49" y2="173.9"/>
<line x1="41.4" y1="151.8" x2="49" y2="151.8"/>
<line x1="45" y1="129.6" x2="49" y2="129.6"/>
<line x1="41.4" y1="107.4" x2="49" y2="107.4"/>
<line x1="45" y1="85.3" x2="49" y2="85.3"/>
<line x1="41.4" y1="63.1" x2="49" y2="63.1"/>
<line x1="45" y1="41.0" x2="49" y2="41.0"/>
<line x1="41.4" y1="18.8" x2="49" y2="18.8"/>
<line x1="434" y1="279.5" x2="441.6" y2="279.5"/>
<line x1="434" y1="260.3" x2="438" y2="260.3"/>
<line x1="434" y1="241.0" x2="441.6" y2="241.0"/>
<line x1="434" y1="221.8" x2="438" y2="221.8"/>
<line x1="434" y1="202.5" x2="441.6" y2="202.5"/>
<line x1="434" y1="183.3" x2="438" y2="183.3"/>
<line x1="434" y1="164.1" x2="441.6" y2="164.1"/>
<line x1="434" y1="144.8" x2="438" y2="144.8"/>
<line x1="434" y1="125.6" x2="441.6" y2="125.6"/>
<line x1="434" y1="106.3" x2="438" y2="106.3"/>
<line x1="434" y1="87.1" x2="441.6" y2="87.1"/>
<line x1="434" y1="67.9" x2="438" y2="67.9"/>
<line x1="434" y1="48.6" x2="441.6" y2="48.6"/>
<line x1="434" y1="29.4" x2="438" y2="29.4"/>
<line x1="434" y1="10.1" x2="441.6" y2="10.1"/>
<line x1="49.0" y1="284.7" x2="49.0" y2="292.09999999999997"/>
<line x1="84.8" y1="284.7" x2="84.8" y2="288.7"/>
<line x1="105.7" y1="284.7" x2="105.7" y2="288.7"/>
<line x1="120.5" y1="284.7" x2="120.5" y2="288.7"/>
<line x1="132.0" y1="284.7" x2="132.0" y2="288.7"/>
<line x1="141.4" y1="284.7" x2="141.4" y2="288.7"/>
<line x1="149.4" y1="284.7" x2="149.4" y2="288.7"/>
<line x1="156.3" y1="284.7" x2="156.3" y2="288.7"/>
<line x1="162.4" y1="284.7" x2="162.4" y2="288.7"/>
<line x1="167.8" y1="284.7" x2="167.8" y2="292.09999999999997"/>
<line x1="203.6" y1="284.7" x2="203.6" y2="288.7"/>
<line x1="224.5" y1="284.7" x2="224.5" y2="288.7"/>
<line x1="239.3" y1="284.7" x2="239.3" y2="288.7"/>
<line x1="250.8" y1="284.7" x2="250.8" y2="288.7"/>
<line x1="260.2" y1="284.7" x2="260.2" y2="288.7"/>
<line x1="268.2" y1="284.7" x2="268.2" y2="288.7"/>
<line x1="275.1" y1="284.7" x2="275.1" y2="288.7"/>
<line x1="281.2" y1="284.7" x2="281.2" y2="288.7"/>
<line x1="286.6" y1="284.7" x2="286.6" y2="292.09999999999997"/>
<line x1="322.4" y1="284.7" x2="322.4" y2="288.7"/>
<line x1="343.3" y1="284.7" x2="343.3" y2="288.7"/>
<line x1="358.1" y1="284.7" x2="358.1" y2="288.7"/>
<line x1="369.6" y1="284.7" x2="369.6" y2="288.7"/>
<line x1="379.0" y1="284.7" x2="379.0" y2="288.7"/>
<line x1="387.0" y1="284.7" x2="387.0" y2="288.7"/>
<line x1="393.9" y1="284.7" x2="393.9" y2="288.7"/>
<line x1="400.0" y1="284.7" x2="400.0" y2="288.7"/>
<line x1="405.4" y1="284.7" x2="405.4" y2="292.09999999999997"/>
</g>
<text x="37.8" y="288.6" text-anchor="end" class="tl">0</text>
<text x="37.8" y="244.3" text-anchor="end" class="tl">5</text>
<text x="37.8" y="200.0" text-anchor="end" class="tl">10</text>
<text x="37.8" y="155.7" text-anchor="end" class="tl">15</text>
<text x="37.8" y="111.4" text-anchor="end" class="tl">20</text>
<text x="37.8" y="67.1" text-anchor="end" class="tl">25</text>
<text x="37.8" y="22.8" text-anchor="end" class="tl">30</text>
<text x="446" y="283.9" class="tl">0.0</text>
<text x="446" y="245.5" class="tl">0.4</text>
<text x="446" y="207.0" class="tl">0.8</text>
<text x="446" y="168.5" class="tl">1.2</text>
<text x="446" y="130.0" class="tl">1.6</text>
<text x="446" y="91.5" class="tl">2.0</text>
<text x="446" y="53.1" class="tl">2.4</text>
<text x="446" y="14.6" class="tl">2.8</text>
<text x="39.4" y="309.8" class="tl">10<tspan class="sup" dx="-1.1" dy="-7.6">6</tspan></text>
<text x="158.2" y="309.8" class="tl">10<tspan class="sup" dx="-1.1" dy="-7.6">7</tspan></text>
<text x="277.0" y="309.8" class="tl">10<tspan class="sup" dx="-1.1" dy="-7.6">8</tspan></text>
<text x="395.8" y="309.8" class="tl">10<tspan class="sup" dx="-1.1" dy="-7.6">9</tspan></text>

<g class="an">
<text x="268" y="48.4">S4</text>
<text x="281" y="72.9">S3</text>
<text x="287.4" y="105.4">S5</text>
<text x="295" y="136.9">S2</text>
<text x="287" y="179.3">S1</text>
<text x="175" y="194.4">S0</text>
<text x="86.6" y="230.2">S2-S5</text>
<text x="137.4" y="243.0">S1</text>
</g>
<g stroke="#000" stroke-width="0.8" fill="none">
<line x1="283" y1="48" x2="287.4" y2="56"/>
<line x1="297" y1="68" x2="304" y2="75.6"/>
<line x1="304" y1="95" x2="307.4" y2="89"/>
<line x1="305" y1="125" x2="309" y2="118"/>
<line x1="302" y1="169" x2="306" y2="163.6"/>
<line x1="188" y1="182" x2="194" y2="175"/>
<line x1="177" y1="198" x2="172" y2="207"/>
<line x1="101.4" y1="236" x2="83.4" y2="269.4"/>
<line x1="141.4" y1="245" x2="136.7" y2="253"/>
<ellipse cx="81.8" cy="271.8" rx="5.6" ry="12.4"/>
<ellipse cx="355" cy="263.5" rx="4.6" ry="19.6"/>
<line x1="355" y1="252.4" x2="377" y2="252.4"/>
</g>
<path d="M382.6 252.4 L374.8 249.9 L374.8 254.9 Z" fill="#000"/>

<text transform="scale(1.3,1)" x="-1.2" y="155.8" class="ax th" style="font-size:20px">ε</text><text x="11" y="158.5" class="ax" style="font-size:27px">′</text>
<text x="467" y="152.5" class="ax th" style="font-size:18px">tan<tspan class="dl">δ</tspan></text>
<text x="187" y="326.7" class="ax" style="font-size:14.5px;font-weight:bold">frequency / Hz</text>
</svg>
</body></html>
